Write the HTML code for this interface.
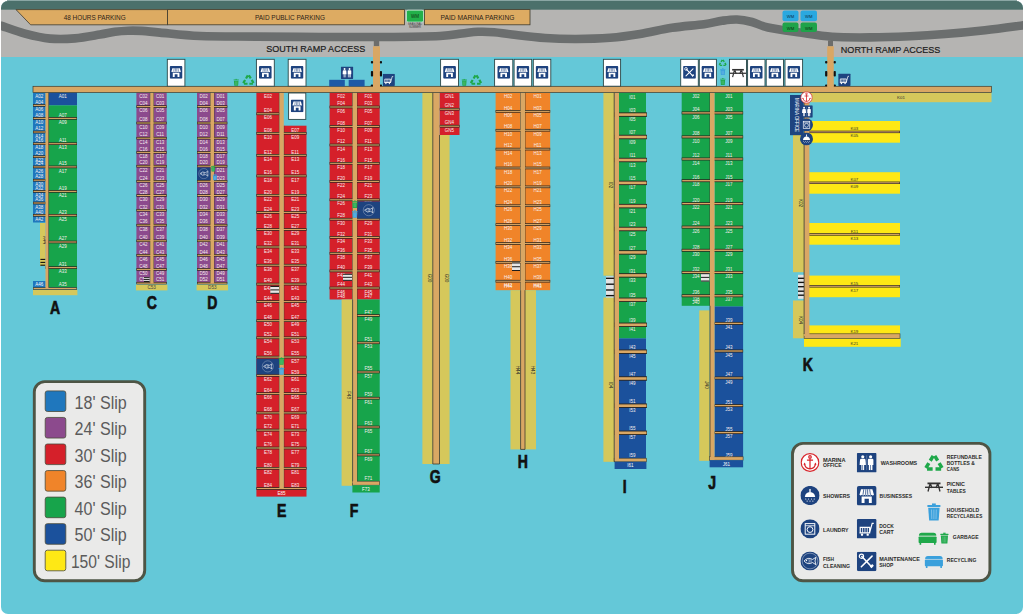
<!DOCTYPE html>
<html><head><meta charset="utf-8"><title>Marina Map</title>
<style>html,body{margin:0;padding:0;background:#fff;width:1024px;height:615px;overflow:hidden}svg{display:block}</style>
</head><body>
<svg width="1024" height="615" viewBox="0 0 1024 615">
<rect x="0" y="0" width="1024" height="615" fill="#ffffff"/><rect x="7" y="0" width="1010" height="3" fill="#8aa6a4"/>
<clipPath id="mapclip"><rect x="1" y="1" width="1022" height="613" rx="7"/></clipPath>
<g clip-path="url(#mapclip)">
<rect x="0" y="0" width="1024" height="615" fill="#64c8d8"/>
<rect x="0" y="0" width="1024" height="57" fill="#b5b4b2"/>
<rect x="0" y="0" width="1024" height="9.7" fill="#4b706b"/>
<path d="M0,25.3 C5.83,27.23 16.67,31.38 25,33.6 C33.33,35.82 41.67,37.8 50,38.6 C58.33,39.4 66.67,39.07 75,38.4 C83.33,37.73 93.33,35.7 100,34.6 C106.67,33.5 110.33,32.45 115,31.8 C119.67,31.15 123.5,30.85 128,30.7 C132.5,30.55 136.67,30.58 142,30.9 C147.33,31.22 150.33,31.75 160,32.6 C169.67,33.45 184,35.33 200,36 C216,36.67 236,36.43 256,36.6 C276,36.77 298.67,36.93 320,37 C341.33,37.07 364,37.17 384,37 C404,36.83 427,36.58 440,36 C453,35.42 455.67,34.2 462,33.5 C468.33,32.8 472.67,32.02 478,31.8 C483.33,31.58 488.33,31.75 494,32.2 C499.67,32.65 503.5,33.53 512,34.5 C520.5,35.47 534.33,37.25 545,38 C555.67,38.75 565.17,39.03 576,39 C586.83,38.97 599.33,38.63 610,37.8 C620.67,36.97 629.67,35.67 640,34 C650.33,32.33 661.33,29.43 672,27.8 C682.67,26.17 695.67,25.37 704,24.2 C712.33,23.03 716.5,21.58 722,20.8 C727.5,20.02 732,19.3 737,19.5 C742,19.7 746.83,20.67 752,22 C757.17,23.33 760,25.73 768,27.5 C776,29.27 789.33,31.05 800,32.6 C810.67,34.15 820.33,36 832,36.8 C843.67,37.6 857,37.5 870,37.4 C883,37.3 897.5,36.77 910,36.2 C922.5,35.63 932.5,35 945,34 C957.5,33 971.83,31.67 985,30.2 C998.17,28.73 1014.83,26.4 1024,25.2" fill="none" stroke="#6b6e6e" stroke-width="8.6"/>
</g>
<polygon points="16,9.6 167.6,9.6 167.6,24.8 30.6,24.8" fill="#ddab62" stroke="#3f3a2c" stroke-width="0.8"/>
<rect x="167.6" y="9.6" width="236.9" height="15.2" fill="#ddab62" stroke="#3f3a2c" stroke-width="0.8"/>
<rect x="424.4" y="9.6" width="105.6" height="15.2" fill="#ddab62" stroke="#3f3a2c" stroke-width="0.8"/>
<text x="94.7" y="20" font-size="7.2" fill="#2e2418" text-anchor="middle" font-weight="normal" font-family='"Liberation Sans", sans-serif' textLength="62" lengthAdjust="spacingAndGlyphs">48 HOURS PARKING</text>
<text x="290" y="20" font-size="7.2" fill="#2e2418" text-anchor="middle" font-weight="normal" font-family='"Liberation Sans", sans-serif' textLength="70" lengthAdjust="spacingAndGlyphs">PAID PUBLIC PARKING</text>
<text x="477.5" y="20" font-size="7.2" fill="#2e2418" text-anchor="middle" font-weight="normal" font-family='"Liberation Sans", sans-serif' textLength="74" lengthAdjust="spacingAndGlyphs">PAID MARINA PARKING</text>
<rect x="406.5" y="10.2" width="17" height="11.8" fill="#22b04a" stroke="#dfe" stroke-width="0.6" rx="1.5"/>
<text x="415" y="18.2" font-size="4.5" fill="#103010" text-anchor="middle" font-weight="normal" font-family='"Liberation Sans", sans-serif'>WM</text>
<text x="415" y="25" font-size="2.9" fill="#333" text-anchor="middle" font-weight="normal" font-family='"Liberation Sans", sans-serif' textLength="14" lengthAdjust="spacingAndGlyphs">SEASONAL</text>
<text x="415" y="28.2" font-size="2.9" fill="#333" text-anchor="middle" font-weight="normal" font-family='"Liberation Sans", sans-serif' textLength="12" lengthAdjust="spacingAndGlyphs">SUMMER</text>
<rect x="782.5" y="10.5" width="16" height="10.8" fill="#2aa8e0" rx="2"/>
<text x="790.5" y="18" font-size="4.2" fill="#0c2a40" text-anchor="middle" font-weight="normal" font-family='"Liberation Sans", sans-serif'>WM</text>
<rect x="782.5" y="22.4" width="16" height="9.6" fill="#1fa34a" rx="2"/>
<text x="790.5" y="29.6" font-size="4.2" fill="#0c2a10" text-anchor="middle" font-weight="normal" font-family='"Liberation Sans", sans-serif'>WM</text>
<rect x="800.5" y="10.5" width="16.5" height="10.8" fill="#2aa8e0" rx="2"/>
<text x="808.75" y="18" font-size="4.2" fill="#0c2a40" text-anchor="middle" font-weight="normal" font-family='"Liberation Sans", sans-serif'>WM</text>
<rect x="800.5" y="22.4" width="16.5" height="9.6" fill="#1fa34a" rx="2"/>
<text x="808.75" y="29.6" font-size="4.2" fill="#0c2a10" text-anchor="middle" font-weight="normal" font-family='"Liberation Sans", sans-serif'>WM</text>
<text x="315.7" y="52.3" font-size="9.4" fill="#1c1c1c" text-anchor="middle" font-weight="normal" font-family='"Liberation Sans", sans-serif' stroke="#1c1c1c" stroke-width="0.2" textLength="99" lengthAdjust="spacingAndGlyphs">SOUTH RAMP ACCESS</text>
<text x="890.6" y="53.3" font-size="9.4" fill="#1c1c1c" text-anchor="middle" font-weight="normal" font-family='"Liberation Sans", sans-serif' stroke="#1c1c1c" stroke-width="0.2" textLength="99.5" lengthAdjust="spacingAndGlyphs">NORTH RAMP ACCESS</text>
<rect x="373.8" y="40.5" width="5.4" height="5.8" fill="#6d6d6b"/>
<rect x="373" y="46.3" width="7" height="40.7" fill="#d9a764"/>
<rect x="370.9" y="60.9" width="2.2" height="2.6" fill="#111" rx="0.8"/>
<rect x="379.9" y="60.9" width="2.1" height="2.6" fill="#111" rx="0.8"/>
<rect x="370.9" y="71" width="2.2" height="5.5" fill="#111" rx="0.8"/>
<rect x="379.9" y="71" width="2.1" height="5.5" fill="#111" rx="0.8"/>
<rect x="370.9" y="84.4" width="2.2" height="2.8" fill="#111" rx="0.8"/>
<rect x="379.9" y="84.4" width="2.1" height="2.8" fill="#111" rx="0.8"/>
<rect x="828" y="40.5" width="5" height="5.8" fill="#6d6d6b"/>
<rect x="827.2" y="46.3" width="6.6" height="40.7" fill="#d9a764"/>
<rect x="825.1" y="60.9" width="2.2" height="2.6" fill="#111" rx="0.8"/>
<rect x="833.7" y="60.9" width="2.1" height="2.6" fill="#111" rx="0.8"/>
<rect x="825.1" y="71" width="2.2" height="5.5" fill="#111" rx="0.8"/>
<rect x="833.7" y="71" width="2.1" height="5.5" fill="#111" rx="0.8"/>
<rect x="825.1" y="84.4" width="2.2" height="2.8" fill="#111" rx="0.8"/>
<rect x="833.7" y="84.4" width="2.1" height="2.8" fill="#111" rx="0.8"/>
<rect x="33" y="92.5" width="12.5" height="12.9" fill="#1f77bd"/>
<rect x="33" y="105.4" width="12.5" height="13" fill="#1f77bd"/>
<rect x="33" y="118.4" width="12.5" height="13.6" fill="#1f77bd"/>
<rect x="33" y="132" width="12.5" height="11.7" fill="#1f77bd"/>
<rect x="33" y="143.7" width="12.5" height="13" fill="#1f77bd"/>
<rect x="33" y="156.7" width="12.5" height="10.2" fill="#1f77bd"/>
<rect x="33" y="166.9" width="12.5" height="13.3" fill="#1f77bd"/>
<rect x="33" y="180.2" width="12.5" height="11.2" fill="#1f77bd"/>
<rect x="33" y="191.4" width="12.5" height="11.6" fill="#1f77bd"/>
<rect x="33" y="203" width="12.5" height="12.3" fill="#1f77bd"/>
<rect x="33" y="215.3" width="12.5" height="7.2" fill="#1f77bd"/>
<text x="39.25" y="98.1" font-size="4.5" fill="#f6eeee" text-anchor="middle" font-weight="normal" font-family='"Liberation Sans", sans-serif'>A02</text>
<text x="39.25" y="103.6" font-size="4.5" fill="#f6eeee" text-anchor="middle" font-weight="normal" font-family='"Liberation Sans", sans-serif'>A04</text>
<text x="39.25" y="111" font-size="4.5" fill="#f6eeee" text-anchor="middle" font-weight="normal" font-family='"Liberation Sans", sans-serif'>A06</text>
<text x="39.25" y="116.6" font-size="4.5" fill="#f6eeee" text-anchor="middle" font-weight="normal" font-family='"Liberation Sans", sans-serif'>A08</text>
<text x="39.25" y="124" font-size="4.5" fill="#f6eeee" text-anchor="middle" font-weight="normal" font-family='"Liberation Sans", sans-serif'>A10</text>
<text x="39.25" y="130.2" font-size="4.5" fill="#f6eeee" text-anchor="middle" font-weight="normal" font-family='"Liberation Sans", sans-serif'>A12</text>
<text x="39.25" y="137.6" font-size="4.5" fill="#f6eeee" text-anchor="middle" font-weight="normal" font-family='"Liberation Sans", sans-serif'>A14</text>
<text x="39.25" y="141.9" font-size="4.5" fill="#f6eeee" text-anchor="middle" font-weight="normal" font-family='"Liberation Sans", sans-serif'>A16</text>
<text x="39.25" y="149.3" font-size="4.5" fill="#f6eeee" text-anchor="middle" font-weight="normal" font-family='"Liberation Sans", sans-serif'>A18</text>
<text x="39.25" y="154.9" font-size="4.5" fill="#f6eeee" text-anchor="middle" font-weight="normal" font-family='"Liberation Sans", sans-serif'>A20</text>
<text x="39.25" y="162.3" font-size="4.5" fill="#f6eeee" text-anchor="middle" font-weight="normal" font-family='"Liberation Sans", sans-serif'>A22</text>
<text x="39.25" y="165.1" font-size="4.5" fill="#f6eeee" text-anchor="middle" font-weight="normal" font-family='"Liberation Sans", sans-serif'>A24</text>
<text x="39.25" y="172.5" font-size="4.5" fill="#f6eeee" text-anchor="middle" font-weight="normal" font-family='"Liberation Sans", sans-serif'>A26</text>
<text x="39.25" y="178.4" font-size="4.5" fill="#f6eeee" text-anchor="middle" font-weight="normal" font-family='"Liberation Sans", sans-serif'>A28</text>
<text x="39.25" y="185.8" font-size="4.5" fill="#f6eeee" text-anchor="middle" font-weight="normal" font-family='"Liberation Sans", sans-serif'>A30</text>
<text x="39.25" y="189.6" font-size="4.5" fill="#f6eeee" text-anchor="middle" font-weight="normal" font-family='"Liberation Sans", sans-serif'>A32</text>
<text x="39.25" y="197" font-size="4.5" fill="#f6eeee" text-anchor="middle" font-weight="normal" font-family='"Liberation Sans", sans-serif'>A34</text>
<text x="39.25" y="201.2" font-size="4.5" fill="#f6eeee" text-anchor="middle" font-weight="normal" font-family='"Liberation Sans", sans-serif'>A36</text>
<text x="39.25" y="208.6" font-size="4.5" fill="#f6eeee" text-anchor="middle" font-weight="normal" font-family='"Liberation Sans", sans-serif'>A38</text>
<text x="39.25" y="213.5" font-size="4.5" fill="#f6eeee" text-anchor="middle" font-weight="normal" font-family='"Liberation Sans", sans-serif'>A40</text>
<text x="39.25" y="220.9" font-size="4.5" fill="#f6eeee" text-anchor="middle" font-weight="normal" font-family='"Liberation Sans", sans-serif'>A42</text>
<rect x="48.6" y="92.5" width="28.4" height="12.9" fill="#1b519c"/>
<rect x="48.6" y="105.4" width="28.4" height="13" fill="#17a44b"/>
<rect x="48.6" y="118.4" width="28.4" height="25.3" fill="#17a44b"/>
<rect x="48.6" y="143.7" width="28.4" height="23.2" fill="#17a44b"/>
<rect x="48.6" y="166.9" width="28.4" height="24.5" fill="#17a44b"/>
<rect x="48.6" y="191.4" width="28.4" height="23.9" fill="#17a44b"/>
<rect x="48.6" y="215.3" width="28.4" height="26.7" fill="#17a44b"/>
<rect x="48.6" y="242" width="28.4" height="25.6" fill="#17a44b"/>
<rect x="48.6" y="267.6" width="28.4" height="19.9" fill="#17a44b"/>
<text x="62.8" y="98.1" font-size="4.5" fill="#f6eeee" text-anchor="middle" font-weight="normal" font-family='"Liberation Sans", sans-serif'>A01</text>
<text x="62.8" y="116.6" font-size="4.5" fill="#f6eeee" text-anchor="middle" font-weight="normal" font-family='"Liberation Sans", sans-serif'>A07</text>
<text x="62.8" y="124" font-size="4.5" fill="#f6eeee" text-anchor="middle" font-weight="normal" font-family='"Liberation Sans", sans-serif'>A09</text>
<text x="62.8" y="141.9" font-size="4.5" fill="#f6eeee" text-anchor="middle" font-weight="normal" font-family='"Liberation Sans", sans-serif'>A11</text>
<text x="62.8" y="149.3" font-size="4.5" fill="#f6eeee" text-anchor="middle" font-weight="normal" font-family='"Liberation Sans", sans-serif'>A13</text>
<text x="62.8" y="165.1" font-size="4.5" fill="#f6eeee" text-anchor="middle" font-weight="normal" font-family='"Liberation Sans", sans-serif'>A15</text>
<text x="62.8" y="172.5" font-size="4.5" fill="#f6eeee" text-anchor="middle" font-weight="normal" font-family='"Liberation Sans", sans-serif'>A17</text>
<text x="62.8" y="189.6" font-size="4.5" fill="#f6eeee" text-anchor="middle" font-weight="normal" font-family='"Liberation Sans", sans-serif'>A19</text>
<text x="62.8" y="197" font-size="4.5" fill="#f6eeee" text-anchor="middle" font-weight="normal" font-family='"Liberation Sans", sans-serif'>A21</text>
<text x="62.8" y="213.5" font-size="4.5" fill="#f6eeee" text-anchor="middle" font-weight="normal" font-family='"Liberation Sans", sans-serif'>A23</text>
<text x="62.8" y="220.9" font-size="4.5" fill="#f6eeee" text-anchor="middle" font-weight="normal" font-family='"Liberation Sans", sans-serif'>A25</text>
<text x="62.8" y="240.2" font-size="4.5" fill="#f6eeee" text-anchor="middle" font-weight="normal" font-family='"Liberation Sans", sans-serif'>A27</text>
<text x="62.8" y="247.6" font-size="4.5" fill="#f6eeee" text-anchor="middle" font-weight="normal" font-family='"Liberation Sans", sans-serif'>A29</text>
<text x="62.8" y="265.8" font-size="4.5" fill="#f6eeee" text-anchor="middle" font-weight="normal" font-family='"Liberation Sans", sans-serif'>A31</text>
<text x="62.8" y="273.2" font-size="4.5" fill="#f6eeee" text-anchor="middle" font-weight="normal" font-family='"Liberation Sans", sans-serif'>A33</text>
<text x="62.8" y="285.7" font-size="4.5" fill="#f6eeee" text-anchor="middle" font-weight="normal" font-family='"Liberation Sans", sans-serif'>A35</text>
<rect x="40" y="223" width="5.4" height="42.8" fill="#d5c85b"/>
<text x="42.7" y="240" font-size="4.6" fill="#2a2a2a" text-anchor="middle" font-family='"Liberation Sans", sans-serif' transform="rotate(90 42.7 240)">A44</text>
<rect x="40.4" y="258.85" width="5" height="1.1" fill="#111"/>
<rect x="40.4" y="261.85" width="5" height="1.1" fill="#111"/>
<rect x="40.4" y="264.65" width="5" height="1.1" fill="#111"/>
<rect x="33" y="281" width="12.5" height="6.5" fill="#1f77bd"/>
<text x="39.2" y="286" font-size="4.5" fill="#fff" text-anchor="middle" font-weight="normal" font-family='"Liberation Sans", sans-serif'>A46</text>
<rect x="33" y="104.1" width="12.5" height="2.6" fill="#2c2620"/>
<rect x="33.5" y="104.85" width="11.5" height="1.1" fill="#d9a764"/>
<rect x="33" y="130.7" width="12.5" height="2.6" fill="#2c2620"/>
<rect x="33.5" y="131.45" width="11.5" height="1.1" fill="#d9a764"/>
<rect x="33" y="155.4" width="12.5" height="2.6" fill="#2c2620"/>
<rect x="33.5" y="156.15" width="11.5" height="1.1" fill="#d9a764"/>
<rect x="33" y="178.9" width="12.5" height="2.6" fill="#2c2620"/>
<rect x="33.5" y="179.65" width="11.5" height="1.1" fill="#d9a764"/>
<rect x="33" y="201.7" width="12.5" height="2.6" fill="#2c2620"/>
<rect x="33.5" y="202.45" width="11.5" height="1.1" fill="#d9a764"/>
<rect x="33" y="117.1" width="44" height="2.6" fill="#2c2620"/>
<rect x="33.5" y="117.85" width="43" height="1.1" fill="#d9a764"/>
<rect x="33" y="142.4" width="44" height="2.6" fill="#2c2620"/>
<rect x="33.5" y="143.15" width="43" height="1.1" fill="#d9a764"/>
<rect x="33" y="165.6" width="44" height="2.6" fill="#2c2620"/>
<rect x="33.5" y="166.35" width="43" height="1.1" fill="#d9a764"/>
<rect x="33" y="190.1" width="44" height="2.6" fill="#2c2620"/>
<rect x="33.5" y="190.85" width="43" height="1.1" fill="#d9a764"/>
<rect x="33" y="214" width="44" height="2.6" fill="#2c2620"/>
<rect x="33.5" y="214.75" width="43" height="1.1" fill="#d9a764"/>
<rect x="45.5" y="240.7" width="31.5" height="2.6" fill="#2c2620"/>
<rect x="46" y="241.45" width="30.5" height="1.1" fill="#d9a764"/>
<rect x="45.5" y="266.3" width="31.5" height="2.6" fill="#2c2620"/>
<rect x="46" y="267.05" width="30.5" height="1.1" fill="#d9a764"/>
<rect x="33" y="289.6" width="44.4" height="5.6" fill="#d5c85b"/>
<rect x="33" y="287.35" width="44" height="2.3" fill="#2c2620"/>
<rect x="33.5" y="287.95" width="43" height="1.1" fill="#d9a764"/>
<g transform="translate(55 0) scale(0.76 1)">
<text x="0" y="313.6" font-size="18.5" fill="#111" text-anchor="middle" font-weight="bold" font-family='"Liberation Sans", sans-serif' stroke="#111" stroke-width="0.7">A</text>
</g>
<rect x="136.4" y="92.5" width="13.9" height="14.1" fill="#8c4a8d"/>
<rect x="136.4" y="106.6" width="13.9" height="16.4" fill="#8c4a8d"/>
<rect x="136.4" y="123" width="13.9" height="15.2" fill="#8c4a8d"/>
<rect x="136.4" y="138.2" width="13.9" height="14.2" fill="#8c4a8d"/>
<rect x="136.4" y="152.4" width="13.9" height="13.8" fill="#8c4a8d"/>
<rect x="136.4" y="166.2" width="13.9" height="15.1" fill="#8c4a8d"/>
<rect x="136.4" y="181.3" width="13.9" height="14.2" fill="#8c4a8d"/>
<rect x="136.4" y="195.5" width="13.9" height="14.8" fill="#8c4a8d"/>
<rect x="136.4" y="210.3" width="13.9" height="14.9" fill="#8c4a8d"/>
<rect x="136.4" y="225.2" width="13.9" height="15.6" fill="#8c4a8d"/>
<rect x="136.4" y="240.8" width="13.9" height="14.5" fill="#8c4a8d"/>
<rect x="136.4" y="255.3" width="13.9" height="14.1" fill="#8c4a8d"/>
<rect x="136.4" y="269.4" width="13.9" height="13.8" fill="#8c4a8d"/>
<text x="143.35" y="98.1" font-size="4.5" fill="#f6eeee" text-anchor="middle" font-weight="normal" font-family='"Liberation Sans", sans-serif'>C02</text>
<text x="143.35" y="104.8" font-size="4.5" fill="#f6eeee" text-anchor="middle" font-weight="normal" font-family='"Liberation Sans", sans-serif'>C04</text>
<text x="143.35" y="112.2" font-size="4.5" fill="#f6eeee" text-anchor="middle" font-weight="normal" font-family='"Liberation Sans", sans-serif'>C06</text>
<text x="143.35" y="121.2" font-size="4.5" fill="#f6eeee" text-anchor="middle" font-weight="normal" font-family='"Liberation Sans", sans-serif'>C08</text>
<text x="143.35" y="128.6" font-size="4.5" fill="#f6eeee" text-anchor="middle" font-weight="normal" font-family='"Liberation Sans", sans-serif'>C10</text>
<text x="143.35" y="136.4" font-size="4.5" fill="#f6eeee" text-anchor="middle" font-weight="normal" font-family='"Liberation Sans", sans-serif'>C12</text>
<text x="143.35" y="143.8" font-size="4.5" fill="#f6eeee" text-anchor="middle" font-weight="normal" font-family='"Liberation Sans", sans-serif'>C14</text>
<text x="143.35" y="150.6" font-size="4.5" fill="#f6eeee" text-anchor="middle" font-weight="normal" font-family='"Liberation Sans", sans-serif'>C16</text>
<text x="143.35" y="158" font-size="4.5" fill="#f6eeee" text-anchor="middle" font-weight="normal" font-family='"Liberation Sans", sans-serif'>C18</text>
<text x="143.35" y="164.4" font-size="4.5" fill="#f6eeee" text-anchor="middle" font-weight="normal" font-family='"Liberation Sans", sans-serif'>C20</text>
<text x="143.35" y="171.8" font-size="4.5" fill="#f6eeee" text-anchor="middle" font-weight="normal" font-family='"Liberation Sans", sans-serif'>C22</text>
<text x="143.35" y="179.5" font-size="4.5" fill="#f6eeee" text-anchor="middle" font-weight="normal" font-family='"Liberation Sans", sans-serif'>C24</text>
<text x="143.35" y="186.9" font-size="4.5" fill="#f6eeee" text-anchor="middle" font-weight="normal" font-family='"Liberation Sans", sans-serif'>C26</text>
<text x="143.35" y="193.7" font-size="4.5" fill="#f6eeee" text-anchor="middle" font-weight="normal" font-family='"Liberation Sans", sans-serif'>C28</text>
<text x="143.35" y="201.1" font-size="4.5" fill="#f6eeee" text-anchor="middle" font-weight="normal" font-family='"Liberation Sans", sans-serif'>C30</text>
<text x="143.35" y="208.5" font-size="4.5" fill="#f6eeee" text-anchor="middle" font-weight="normal" font-family='"Liberation Sans", sans-serif'>C32</text>
<text x="143.35" y="215.9" font-size="4.5" fill="#f6eeee" text-anchor="middle" font-weight="normal" font-family='"Liberation Sans", sans-serif'>C34</text>
<text x="143.35" y="223.4" font-size="4.5" fill="#f6eeee" text-anchor="middle" font-weight="normal" font-family='"Liberation Sans", sans-serif'>C36</text>
<text x="143.35" y="230.8" font-size="4.5" fill="#f6eeee" text-anchor="middle" font-weight="normal" font-family='"Liberation Sans", sans-serif'>C38</text>
<text x="143.35" y="239" font-size="4.5" fill="#f6eeee" text-anchor="middle" font-weight="normal" font-family='"Liberation Sans", sans-serif'>C40</text>
<text x="143.35" y="246.4" font-size="4.5" fill="#f6eeee" text-anchor="middle" font-weight="normal" font-family='"Liberation Sans", sans-serif'>C42</text>
<text x="143.35" y="253.5" font-size="4.5" fill="#f6eeee" text-anchor="middle" font-weight="normal" font-family='"Liberation Sans", sans-serif'>C44</text>
<text x="143.35" y="260.9" font-size="4.5" fill="#f6eeee" text-anchor="middle" font-weight="normal" font-family='"Liberation Sans", sans-serif'>C46</text>
<text x="143.35" y="267.6" font-size="4.5" fill="#f6eeee" text-anchor="middle" font-weight="normal" font-family='"Liberation Sans", sans-serif'>C48</text>
<text x="143.35" y="275" font-size="4.5" fill="#f6eeee" text-anchor="middle" font-weight="normal" font-family='"Liberation Sans", sans-serif'>C50</text>
<text x="143.35" y="281.4" font-size="4.5" fill="#f6eeee" text-anchor="middle" font-weight="normal" font-family='"Liberation Sans", sans-serif'>C52</text>
<rect x="153.5" y="92.5" width="13.2" height="14.1" fill="#8c4a8d"/>
<rect x="153.5" y="106.6" width="13.2" height="16.4" fill="#8c4a8d"/>
<rect x="153.5" y="123" width="13.2" height="15.2" fill="#8c4a8d"/>
<rect x="153.5" y="138.2" width="13.2" height="14.2" fill="#8c4a8d"/>
<rect x="153.5" y="152.4" width="13.2" height="13.8" fill="#8c4a8d"/>
<rect x="153.5" y="166.2" width="13.2" height="15.1" fill="#8c4a8d"/>
<rect x="153.5" y="181.3" width="13.2" height="14.2" fill="#8c4a8d"/>
<rect x="153.5" y="195.5" width="13.2" height="14.8" fill="#8c4a8d"/>
<rect x="153.5" y="210.3" width="13.2" height="14.9" fill="#8c4a8d"/>
<rect x="153.5" y="225.2" width="13.2" height="15.6" fill="#8c4a8d"/>
<rect x="153.5" y="240.8" width="13.2" height="14.5" fill="#8c4a8d"/>
<rect x="153.5" y="255.3" width="13.2" height="14.1" fill="#8c4a8d"/>
<rect x="153.5" y="269.4" width="13.2" height="13.8" fill="#8c4a8d"/>
<text x="160.1" y="98.1" font-size="4.5" fill="#f6eeee" text-anchor="middle" font-weight="normal" font-family='"Liberation Sans", sans-serif'>C01</text>
<text x="160.1" y="104.8" font-size="4.5" fill="#f6eeee" text-anchor="middle" font-weight="normal" font-family='"Liberation Sans", sans-serif'>C03</text>
<text x="160.1" y="112.2" font-size="4.5" fill="#f6eeee" text-anchor="middle" font-weight="normal" font-family='"Liberation Sans", sans-serif'>C05</text>
<text x="160.1" y="121.2" font-size="4.5" fill="#f6eeee" text-anchor="middle" font-weight="normal" font-family='"Liberation Sans", sans-serif'>C07</text>
<text x="160.1" y="128.6" font-size="4.5" fill="#f6eeee" text-anchor="middle" font-weight="normal" font-family='"Liberation Sans", sans-serif'>C09</text>
<text x="160.1" y="136.4" font-size="4.5" fill="#f6eeee" text-anchor="middle" font-weight="normal" font-family='"Liberation Sans", sans-serif'>C11</text>
<text x="160.1" y="143.8" font-size="4.5" fill="#f6eeee" text-anchor="middle" font-weight="normal" font-family='"Liberation Sans", sans-serif'>C13</text>
<text x="160.1" y="150.6" font-size="4.5" fill="#f6eeee" text-anchor="middle" font-weight="normal" font-family='"Liberation Sans", sans-serif'>C15</text>
<text x="160.1" y="158" font-size="4.5" fill="#f6eeee" text-anchor="middle" font-weight="normal" font-family='"Liberation Sans", sans-serif'>C17</text>
<text x="160.1" y="164.4" font-size="4.5" fill="#f6eeee" text-anchor="middle" font-weight="normal" font-family='"Liberation Sans", sans-serif'>C19</text>
<text x="160.1" y="171.8" font-size="4.5" fill="#f6eeee" text-anchor="middle" font-weight="normal" font-family='"Liberation Sans", sans-serif'>C21</text>
<text x="160.1" y="179.5" font-size="4.5" fill="#f6eeee" text-anchor="middle" font-weight="normal" font-family='"Liberation Sans", sans-serif'>C23</text>
<text x="160.1" y="186.9" font-size="4.5" fill="#f6eeee" text-anchor="middle" font-weight="normal" font-family='"Liberation Sans", sans-serif'>C25</text>
<text x="160.1" y="193.7" font-size="4.5" fill="#f6eeee" text-anchor="middle" font-weight="normal" font-family='"Liberation Sans", sans-serif'>C27</text>
<text x="160.1" y="201.1" font-size="4.5" fill="#f6eeee" text-anchor="middle" font-weight="normal" font-family='"Liberation Sans", sans-serif'>C29</text>
<text x="160.1" y="208.5" font-size="4.5" fill="#f6eeee" text-anchor="middle" font-weight="normal" font-family='"Liberation Sans", sans-serif'>C31</text>
<text x="160.1" y="215.9" font-size="4.5" fill="#f6eeee" text-anchor="middle" font-weight="normal" font-family='"Liberation Sans", sans-serif'>C33</text>
<text x="160.1" y="223.4" font-size="4.5" fill="#f6eeee" text-anchor="middle" font-weight="normal" font-family='"Liberation Sans", sans-serif'>C35</text>
<text x="160.1" y="230.8" font-size="4.5" fill="#f6eeee" text-anchor="middle" font-weight="normal" font-family='"Liberation Sans", sans-serif'>C37</text>
<text x="160.1" y="239" font-size="4.5" fill="#f6eeee" text-anchor="middle" font-weight="normal" font-family='"Liberation Sans", sans-serif'>C39</text>
<text x="160.1" y="246.4" font-size="4.5" fill="#f6eeee" text-anchor="middle" font-weight="normal" font-family='"Liberation Sans", sans-serif'>C41</text>
<text x="160.1" y="253.5" font-size="4.5" fill="#f6eeee" text-anchor="middle" font-weight="normal" font-family='"Liberation Sans", sans-serif'>C43</text>
<text x="160.1" y="260.9" font-size="4.5" fill="#f6eeee" text-anchor="middle" font-weight="normal" font-family='"Liberation Sans", sans-serif'>C45</text>
<text x="160.1" y="267.6" font-size="4.5" fill="#f6eeee" text-anchor="middle" font-weight="normal" font-family='"Liberation Sans", sans-serif'>C47</text>
<text x="160.1" y="275" font-size="4.5" fill="#f6eeee" text-anchor="middle" font-weight="normal" font-family='"Liberation Sans", sans-serif'>C49</text>
<text x="160.1" y="281.4" font-size="4.5" fill="#f6eeee" text-anchor="middle" font-weight="normal" font-family='"Liberation Sans", sans-serif'>C51</text>
<line x1="150.3" y1="92.5" x2="150.3" y2="283.2" stroke="#3f3a2c" stroke-width="0.8"/>
<line x1="153.5" y1="92.5" x2="153.5" y2="283.2" stroke="#3f3a2c" stroke-width="0.8"/>
<rect x="136.4" y="105.35" width="30.3" height="2.5" fill="#2c2620"/>
<rect x="136.9" y="106.05" width="29.3" height="1.1" fill="#d9a764"/>
<rect x="136.4" y="121.75" width="30.3" height="2.5" fill="#2c2620"/>
<rect x="136.9" y="122.45" width="29.3" height="1.1" fill="#d9a764"/>
<rect x="136.4" y="136.95" width="30.3" height="2.5" fill="#2c2620"/>
<rect x="136.9" y="137.65" width="29.3" height="1.1" fill="#d9a764"/>
<rect x="136.4" y="151.15" width="30.3" height="2.5" fill="#2c2620"/>
<rect x="136.9" y="151.85" width="29.3" height="1.1" fill="#d9a764"/>
<rect x="136.4" y="164.95" width="30.3" height="2.5" fill="#2c2620"/>
<rect x="136.9" y="165.65" width="29.3" height="1.1" fill="#d9a764"/>
<rect x="136.4" y="180.05" width="30.3" height="2.5" fill="#2c2620"/>
<rect x="136.9" y="180.75" width="29.3" height="1.1" fill="#d9a764"/>
<rect x="136.4" y="194.25" width="30.3" height="2.5" fill="#2c2620"/>
<rect x="136.9" y="194.95" width="29.3" height="1.1" fill="#d9a764"/>
<rect x="136.4" y="209.05" width="30.3" height="2.5" fill="#2c2620"/>
<rect x="136.9" y="209.75" width="29.3" height="1.1" fill="#d9a764"/>
<rect x="136.4" y="223.95" width="30.3" height="2.5" fill="#2c2620"/>
<rect x="136.9" y="224.65" width="29.3" height="1.1" fill="#d9a764"/>
<rect x="136.4" y="239.55" width="30.3" height="2.5" fill="#2c2620"/>
<rect x="136.9" y="240.25" width="29.3" height="1.1" fill="#d9a764"/>
<rect x="136.4" y="254.05" width="30.3" height="2.5" fill="#2c2620"/>
<rect x="136.9" y="254.75" width="29.3" height="1.1" fill="#d9a764"/>
<rect x="136.4" y="268.15" width="30.3" height="2.5" fill="#2c2620"/>
<rect x="136.9" y="268.85" width="29.3" height="1.1" fill="#d9a764"/>
<rect x="136.4" y="281.95" width="30.3" height="2.5" fill="#2c2620"/>
<rect x="136.9" y="282.65" width="29.3" height="1.1" fill="#d9a764"/>
<rect x="136" y="284.7" width="31.4" height="5.7" fill="#d5c85b"/>
<text x="151.7" y="289.4" font-size="4.6" fill="#444" text-anchor="middle" font-weight="normal" font-family='"Liberation Sans", sans-serif'>C53</text>
<rect x="144" y="277.2" width="5.6" height="4.8" fill="#e6e6e6"/>
<rect x="144" y="277.2" width="5.6" height="0.95" fill="#111"/>
<rect x="144" y="279.12" width="5.6" height="0.95" fill="#111"/>
<rect x="144" y="281.05" width="5.6" height="0.95" fill="#111"/>
<rect x="197" y="92.5" width="13.5" height="14.1" fill="#8c4a8d"/>
<rect x="197" y="106.6" width="13.5" height="16.4" fill="#8c4a8d"/>
<rect x="197" y="123" width="13.5" height="15.2" fill="#8c4a8d"/>
<rect x="197" y="138.2" width="13.5" height="14.2" fill="#8c4a8d"/>
<rect x="197" y="152.4" width="13.5" height="13.8" fill="#8c4a8d"/>
<rect x="197" y="166.2" width="13.5" height="15.1" fill="#8c4a8d"/>
<rect x="197" y="181.3" width="13.5" height="14.2" fill="#8c4a8d"/>
<rect x="197" y="195.5" width="13.5" height="14.8" fill="#8c4a8d"/>
<rect x="197" y="210.3" width="13.5" height="14.9" fill="#8c4a8d"/>
<rect x="197" y="225.2" width="13.5" height="15.6" fill="#8c4a8d"/>
<rect x="197" y="240.8" width="13.5" height="14.5" fill="#8c4a8d"/>
<rect x="197" y="255.3" width="13.5" height="14.1" fill="#8c4a8d"/>
<rect x="197" y="269.4" width="13.5" height="13.8" fill="#8c4a8d"/>
<text x="203.75" y="98.1" font-size="4.5" fill="#f6eeee" text-anchor="middle" font-weight="normal" font-family='"Liberation Sans", sans-serif'>D02</text>
<text x="203.75" y="104.8" font-size="4.5" fill="#f6eeee" text-anchor="middle" font-weight="normal" font-family='"Liberation Sans", sans-serif'>D04</text>
<text x="203.75" y="112.2" font-size="4.5" fill="#f6eeee" text-anchor="middle" font-weight="normal" font-family='"Liberation Sans", sans-serif'>D06</text>
<text x="203.75" y="121.2" font-size="4.5" fill="#f6eeee" text-anchor="middle" font-weight="normal" font-family='"Liberation Sans", sans-serif'>D08</text>
<text x="203.75" y="128.6" font-size="4.5" fill="#f6eeee" text-anchor="middle" font-weight="normal" font-family='"Liberation Sans", sans-serif'>D10</text>
<text x="203.75" y="136.4" font-size="4.5" fill="#f6eeee" text-anchor="middle" font-weight="normal" font-family='"Liberation Sans", sans-serif'>D12</text>
<text x="203.75" y="143.8" font-size="4.5" fill="#f6eeee" text-anchor="middle" font-weight="normal" font-family='"Liberation Sans", sans-serif'>D14</text>
<text x="203.75" y="150.6" font-size="4.5" fill="#f6eeee" text-anchor="middle" font-weight="normal" font-family='"Liberation Sans", sans-serif'>D16</text>
<text x="203.75" y="158" font-size="4.5" fill="#f6eeee" text-anchor="middle" font-weight="normal" font-family='"Liberation Sans", sans-serif'>D18</text>
<text x="203.75" y="164.4" font-size="4.5" fill="#f6eeee" text-anchor="middle" font-weight="normal" font-family='"Liberation Sans", sans-serif'>D20</text>
<text x="203.75" y="171.8" font-size="4.5" fill="#f6eeee" text-anchor="middle" font-weight="normal" font-family='"Liberation Sans", sans-serif'>D22</text>
<text x="203.75" y="179.5" font-size="4.5" fill="#f6eeee" text-anchor="middle" font-weight="normal" font-family='"Liberation Sans", sans-serif'>D24</text>
<text x="203.75" y="186.9" font-size="4.5" fill="#f6eeee" text-anchor="middle" font-weight="normal" font-family='"Liberation Sans", sans-serif'>D26</text>
<text x="203.75" y="193.7" font-size="4.5" fill="#f6eeee" text-anchor="middle" font-weight="normal" font-family='"Liberation Sans", sans-serif'>D28</text>
<text x="203.75" y="201.1" font-size="4.5" fill="#f6eeee" text-anchor="middle" font-weight="normal" font-family='"Liberation Sans", sans-serif'>D30</text>
<text x="203.75" y="208.5" font-size="4.5" fill="#f6eeee" text-anchor="middle" font-weight="normal" font-family='"Liberation Sans", sans-serif'>D32</text>
<text x="203.75" y="215.9" font-size="4.5" fill="#f6eeee" text-anchor="middle" font-weight="normal" font-family='"Liberation Sans", sans-serif'>D34</text>
<text x="203.75" y="223.4" font-size="4.5" fill="#f6eeee" text-anchor="middle" font-weight="normal" font-family='"Liberation Sans", sans-serif'>D36</text>
<text x="203.75" y="230.8" font-size="4.5" fill="#f6eeee" text-anchor="middle" font-weight="normal" font-family='"Liberation Sans", sans-serif'>D38</text>
<text x="203.75" y="239" font-size="4.5" fill="#f6eeee" text-anchor="middle" font-weight="normal" font-family='"Liberation Sans", sans-serif'>D40</text>
<text x="203.75" y="246.4" font-size="4.5" fill="#f6eeee" text-anchor="middle" font-weight="normal" font-family='"Liberation Sans", sans-serif'>D42</text>
<text x="203.75" y="253.5" font-size="4.5" fill="#f6eeee" text-anchor="middle" font-weight="normal" font-family='"Liberation Sans", sans-serif'>D44</text>
<text x="203.75" y="260.9" font-size="4.5" fill="#f6eeee" text-anchor="middle" font-weight="normal" font-family='"Liberation Sans", sans-serif'>D46</text>
<text x="203.75" y="267.6" font-size="4.5" fill="#f6eeee" text-anchor="middle" font-weight="normal" font-family='"Liberation Sans", sans-serif'>D48</text>
<text x="203.75" y="275" font-size="4.5" fill="#f6eeee" text-anchor="middle" font-weight="normal" font-family='"Liberation Sans", sans-serif'>D50</text>
<text x="203.75" y="281.4" font-size="4.5" fill="#f6eeee" text-anchor="middle" font-weight="normal" font-family='"Liberation Sans", sans-serif'>D52</text>
<rect x="214" y="92.5" width="13.3" height="14.1" fill="#8c4a8d"/>
<rect x="214" y="106.6" width="13.3" height="16.4" fill="#8c4a8d"/>
<rect x="214" y="123" width="13.3" height="15.2" fill="#8c4a8d"/>
<rect x="214" y="138.2" width="13.3" height="14.2" fill="#8c4a8d"/>
<rect x="214" y="152.4" width="13.3" height="13.8" fill="#8c4a8d"/>
<rect x="214" y="166.2" width="13.3" height="15.1" fill="#8c4a8d"/>
<rect x="214" y="181.3" width="13.3" height="14.2" fill="#8c4a8d"/>
<rect x="214" y="195.5" width="13.3" height="14.8" fill="#8c4a8d"/>
<rect x="214" y="210.3" width="13.3" height="14.9" fill="#8c4a8d"/>
<rect x="214" y="225.2" width="13.3" height="15.6" fill="#8c4a8d"/>
<rect x="214" y="240.8" width="13.3" height="14.5" fill="#8c4a8d"/>
<rect x="214" y="255.3" width="13.3" height="14.1" fill="#8c4a8d"/>
<rect x="214" y="269.4" width="13.3" height="13.8" fill="#8c4a8d"/>
<text x="220.65" y="98.1" font-size="4.5" fill="#f6eeee" text-anchor="middle" font-weight="normal" font-family='"Liberation Sans", sans-serif'>D01</text>
<text x="220.65" y="104.8" font-size="4.5" fill="#f6eeee" text-anchor="middle" font-weight="normal" font-family='"Liberation Sans", sans-serif'>D03</text>
<text x="220.65" y="112.2" font-size="4.5" fill="#f6eeee" text-anchor="middle" font-weight="normal" font-family='"Liberation Sans", sans-serif'>D05</text>
<text x="220.65" y="121.2" font-size="4.5" fill="#f6eeee" text-anchor="middle" font-weight="normal" font-family='"Liberation Sans", sans-serif'>D07</text>
<text x="220.65" y="128.6" font-size="4.5" fill="#f6eeee" text-anchor="middle" font-weight="normal" font-family='"Liberation Sans", sans-serif'>D09</text>
<text x="220.65" y="136.4" font-size="4.5" fill="#f6eeee" text-anchor="middle" font-weight="normal" font-family='"Liberation Sans", sans-serif'>D11</text>
<text x="220.65" y="143.8" font-size="4.5" fill="#f6eeee" text-anchor="middle" font-weight="normal" font-family='"Liberation Sans", sans-serif'>D13</text>
<text x="220.65" y="150.6" font-size="4.5" fill="#f6eeee" text-anchor="middle" font-weight="normal" font-family='"Liberation Sans", sans-serif'>D15</text>
<text x="220.65" y="158" font-size="4.5" fill="#f6eeee" text-anchor="middle" font-weight="normal" font-family='"Liberation Sans", sans-serif'>D17</text>
<text x="220.65" y="164.4" font-size="4.5" fill="#f6eeee" text-anchor="middle" font-weight="normal" font-family='"Liberation Sans", sans-serif'>D19</text>
<text x="220.65" y="171.8" font-size="4.5" fill="#f6eeee" text-anchor="middle" font-weight="normal" font-family='"Liberation Sans", sans-serif'>D21</text>
<text x="220.65" y="179.5" font-size="4.5" fill="#f6eeee" text-anchor="middle" font-weight="normal" font-family='"Liberation Sans", sans-serif'>D23</text>
<text x="220.65" y="186.9" font-size="4.5" fill="#f6eeee" text-anchor="middle" font-weight="normal" font-family='"Liberation Sans", sans-serif'>D25</text>
<text x="220.65" y="193.7" font-size="4.5" fill="#f6eeee" text-anchor="middle" font-weight="normal" font-family='"Liberation Sans", sans-serif'>D27</text>
<text x="220.65" y="201.1" font-size="4.5" fill="#f6eeee" text-anchor="middle" font-weight="normal" font-family='"Liberation Sans", sans-serif'>D29</text>
<text x="220.65" y="208.5" font-size="4.5" fill="#f6eeee" text-anchor="middle" font-weight="normal" font-family='"Liberation Sans", sans-serif'>D31</text>
<text x="220.65" y="215.9" font-size="4.5" fill="#f6eeee" text-anchor="middle" font-weight="normal" font-family='"Liberation Sans", sans-serif'>D33</text>
<text x="220.65" y="223.4" font-size="4.5" fill="#f6eeee" text-anchor="middle" font-weight="normal" font-family='"Liberation Sans", sans-serif'>D35</text>
<text x="220.65" y="230.8" font-size="4.5" fill="#f6eeee" text-anchor="middle" font-weight="normal" font-family='"Liberation Sans", sans-serif'>D37</text>
<text x="220.65" y="239" font-size="4.5" fill="#f6eeee" text-anchor="middle" font-weight="normal" font-family='"Liberation Sans", sans-serif'>D39</text>
<text x="220.65" y="246.4" font-size="4.5" fill="#f6eeee" text-anchor="middle" font-weight="normal" font-family='"Liberation Sans", sans-serif'>D41</text>
<text x="220.65" y="253.5" font-size="4.5" fill="#f6eeee" text-anchor="middle" font-weight="normal" font-family='"Liberation Sans", sans-serif'>D43</text>
<text x="220.65" y="260.9" font-size="4.5" fill="#f6eeee" text-anchor="middle" font-weight="normal" font-family='"Liberation Sans", sans-serif'>D45</text>
<text x="220.65" y="267.6" font-size="4.5" fill="#f6eeee" text-anchor="middle" font-weight="normal" font-family='"Liberation Sans", sans-serif'>D47</text>
<text x="220.65" y="275" font-size="4.5" fill="#f6eeee" text-anchor="middle" font-weight="normal" font-family='"Liberation Sans", sans-serif'>D49</text>
<text x="220.65" y="281.4" font-size="4.5" fill="#f6eeee" text-anchor="middle" font-weight="normal" font-family='"Liberation Sans", sans-serif'>D51</text>
<line x1="210.5" y1="92.5" x2="210.5" y2="283.2" stroke="#3f3a2c" stroke-width="0.8"/>
<line x1="214" y1="92.5" x2="214" y2="283.2" stroke="#3f3a2c" stroke-width="0.8"/>
<rect x="197" y="105.35" width="30.3" height="2.5" fill="#2c2620"/>
<rect x="197.5" y="106.05" width="29.3" height="1.1" fill="#d9a764"/>
<rect x="197" y="121.75" width="30.3" height="2.5" fill="#2c2620"/>
<rect x="197.5" y="122.45" width="29.3" height="1.1" fill="#d9a764"/>
<rect x="197" y="136.95" width="30.3" height="2.5" fill="#2c2620"/>
<rect x="197.5" y="137.65" width="29.3" height="1.1" fill="#d9a764"/>
<rect x="197" y="151.15" width="30.3" height="2.5" fill="#2c2620"/>
<rect x="197.5" y="151.85" width="29.3" height="1.1" fill="#d9a764"/>
<rect x="197" y="164.95" width="30.3" height="2.5" fill="#2c2620"/>
<rect x="197.5" y="165.65" width="29.3" height="1.1" fill="#d9a764"/>
<rect x="197" y="180.05" width="30.3" height="2.5" fill="#2c2620"/>
<rect x="197.5" y="180.75" width="29.3" height="1.1" fill="#d9a764"/>
<rect x="197" y="194.25" width="30.3" height="2.5" fill="#2c2620"/>
<rect x="197.5" y="194.95" width="29.3" height="1.1" fill="#d9a764"/>
<rect x="197" y="209.05" width="30.3" height="2.5" fill="#2c2620"/>
<rect x="197.5" y="209.75" width="29.3" height="1.1" fill="#d9a764"/>
<rect x="197" y="223.95" width="30.3" height="2.5" fill="#2c2620"/>
<rect x="197.5" y="224.65" width="29.3" height="1.1" fill="#d9a764"/>
<rect x="197" y="239.55" width="30.3" height="2.5" fill="#2c2620"/>
<rect x="197.5" y="240.25" width="29.3" height="1.1" fill="#d9a764"/>
<rect x="197" y="254.05" width="30.3" height="2.5" fill="#2c2620"/>
<rect x="197.5" y="254.75" width="29.3" height="1.1" fill="#d9a764"/>
<rect x="197" y="268.15" width="30.3" height="2.5" fill="#2c2620"/>
<rect x="197.5" y="268.85" width="29.3" height="1.1" fill="#d9a764"/>
<rect x="197" y="281.95" width="30.3" height="2.5" fill="#2c2620"/>
<rect x="197.5" y="282.65" width="29.3" height="1.1" fill="#d9a764"/>
<rect x="196.6" y="284.7" width="31.4" height="5.7" fill="#d5c85b"/>
<text x="212.3" y="289.4" font-size="4.6" fill="#444" text-anchor="middle" font-weight="normal" font-family='"Liberation Sans", sans-serif'>D53</text>
<g transform="translate(151.8 0) scale(0.76 1)">
<text x="0" y="309" font-size="18.5" fill="#111" text-anchor="middle" font-weight="bold" font-family='"Liberation Sans", sans-serif' stroke="#111" stroke-width="0.7">C</text>
</g>
<g transform="translate(212.3 0) scale(0.76 1)">
<text x="0" y="309" font-size="18.5" fill="#111" text-anchor="middle" font-weight="bold" font-family='"Liberation Sans", sans-serif' stroke="#111" stroke-width="0.7">D</text>
</g>
<rect x="256.4" y="92.5" width="23" height="21.3" fill="#d5202a"/>
<rect x="256.4" y="113.8" width="23" height="19.5" fill="#d5202a"/>
<rect x="256.4" y="133.3" width="23" height="22" fill="#d5202a"/>
<rect x="256.4" y="155.3" width="23" height="20.6" fill="#d5202a"/>
<rect x="256.4" y="175.9" width="23" height="19.4" fill="#d5202a"/>
<rect x="256.4" y="195.3" width="23" height="17.1" fill="#d5202a"/>
<rect x="256.4" y="212.4" width="23" height="17.1" fill="#d5202a"/>
<rect x="256.4" y="229.5" width="23" height="17.5" fill="#d5202a"/>
<rect x="256.4" y="247" width="23" height="18.2" fill="#d5202a"/>
<rect x="256.4" y="265.2" width="23" height="18.9" fill="#d5202a"/>
<rect x="256.4" y="284.1" width="23" height="17.5" fill="#d5202a"/>
<rect x="256.4" y="301.6" width="23" height="19.1" fill="#d5202a"/>
<rect x="256.4" y="320.7" width="23" height="17.1" fill="#d5202a"/>
<rect x="256.4" y="337.8" width="23" height="19.3" fill="#d5202a"/>
<rect x="256.4" y="357.1" width="23" height="18.3" fill="#d5202a"/>
<rect x="256.4" y="375.4" width="23" height="18.2" fill="#d5202a"/>
<rect x="256.4" y="393.6" width="23" height="19.3" fill="#d5202a"/>
<rect x="256.4" y="412.9" width="23" height="17.2" fill="#d5202a"/>
<rect x="256.4" y="430.1" width="23" height="17.9" fill="#d5202a"/>
<rect x="256.4" y="448" width="23" height="20.3" fill="#d5202a"/>
<rect x="256.4" y="468.3" width="23" height="20.2" fill="#d5202a"/>
<text x="267.9" y="98.1" font-size="4.5" fill="#f6eeee" text-anchor="middle" font-weight="normal" font-family='"Liberation Sans", sans-serif'>E02</text>
<text x="267.9" y="112" font-size="4.5" fill="#f6eeee" text-anchor="middle" font-weight="normal" font-family='"Liberation Sans", sans-serif'>E04</text>
<text x="267.9" y="119.4" font-size="4.5" fill="#f6eeee" text-anchor="middle" font-weight="normal" font-family='"Liberation Sans", sans-serif'>E06</text>
<text x="267.9" y="131.5" font-size="4.5" fill="#f6eeee" text-anchor="middle" font-weight="normal" font-family='"Liberation Sans", sans-serif'>E08</text>
<text x="267.9" y="138.9" font-size="4.5" fill="#f6eeee" text-anchor="middle" font-weight="normal" font-family='"Liberation Sans", sans-serif'>E10</text>
<text x="267.9" y="153.5" font-size="4.5" fill="#f6eeee" text-anchor="middle" font-weight="normal" font-family='"Liberation Sans", sans-serif'>E12</text>
<text x="267.9" y="160.9" font-size="4.5" fill="#f6eeee" text-anchor="middle" font-weight="normal" font-family='"Liberation Sans", sans-serif'>E14</text>
<text x="267.9" y="174.1" font-size="4.5" fill="#f6eeee" text-anchor="middle" font-weight="normal" font-family='"Liberation Sans", sans-serif'>E16</text>
<text x="267.9" y="181.5" font-size="4.5" fill="#f6eeee" text-anchor="middle" font-weight="normal" font-family='"Liberation Sans", sans-serif'>E18</text>
<text x="267.9" y="193.5" font-size="4.5" fill="#f6eeee" text-anchor="middle" font-weight="normal" font-family='"Liberation Sans", sans-serif'>E20</text>
<text x="267.9" y="200.9" font-size="4.5" fill="#f6eeee" text-anchor="middle" font-weight="normal" font-family='"Liberation Sans", sans-serif'>E22</text>
<text x="267.9" y="210.6" font-size="4.5" fill="#f6eeee" text-anchor="middle" font-weight="normal" font-family='"Liberation Sans", sans-serif'>E24</text>
<text x="267.9" y="218" font-size="4.5" fill="#f6eeee" text-anchor="middle" font-weight="normal" font-family='"Liberation Sans", sans-serif'>E26</text>
<text x="267.9" y="227.7" font-size="4.5" fill="#f6eeee" text-anchor="middle" font-weight="normal" font-family='"Liberation Sans", sans-serif'>E28</text>
<text x="267.9" y="235.1" font-size="4.5" fill="#f6eeee" text-anchor="middle" font-weight="normal" font-family='"Liberation Sans", sans-serif'>E30</text>
<text x="267.9" y="245.2" font-size="4.5" fill="#f6eeee" text-anchor="middle" font-weight="normal" font-family='"Liberation Sans", sans-serif'>E32</text>
<text x="267.9" y="252.6" font-size="4.5" fill="#f6eeee" text-anchor="middle" font-weight="normal" font-family='"Liberation Sans", sans-serif'>E34</text>
<text x="267.9" y="263.4" font-size="4.5" fill="#f6eeee" text-anchor="middle" font-weight="normal" font-family='"Liberation Sans", sans-serif'>E36</text>
<text x="267.9" y="270.8" font-size="4.5" fill="#f6eeee" text-anchor="middle" font-weight="normal" font-family='"Liberation Sans", sans-serif'>E38</text>
<text x="267.9" y="282.3" font-size="4.5" fill="#f6eeee" text-anchor="middle" font-weight="normal" font-family='"Liberation Sans", sans-serif'>E40</text>
<text x="267.9" y="289.7" font-size="4.5" fill="#f6eeee" text-anchor="middle" font-weight="normal" font-family='"Liberation Sans", sans-serif'>E42</text>
<text x="267.9" y="299.8" font-size="4.5" fill="#f6eeee" text-anchor="middle" font-weight="normal" font-family='"Liberation Sans", sans-serif'>E44</text>
<text x="267.9" y="307.2" font-size="4.5" fill="#f6eeee" text-anchor="middle" font-weight="normal" font-family='"Liberation Sans", sans-serif'>E46</text>
<text x="267.9" y="318.9" font-size="4.5" fill="#f6eeee" text-anchor="middle" font-weight="normal" font-family='"Liberation Sans", sans-serif'>E48</text>
<text x="267.9" y="326.3" font-size="4.5" fill="#f6eeee" text-anchor="middle" font-weight="normal" font-family='"Liberation Sans", sans-serif'>E50</text>
<text x="267.9" y="336" font-size="4.5" fill="#f6eeee" text-anchor="middle" font-weight="normal" font-family='"Liberation Sans", sans-serif'>E52</text>
<text x="267.9" y="343.4" font-size="4.5" fill="#f6eeee" text-anchor="middle" font-weight="normal" font-family='"Liberation Sans", sans-serif'>E54</text>
<text x="267.9" y="355.3" font-size="4.5" fill="#f6eeee" text-anchor="middle" font-weight="normal" font-family='"Liberation Sans", sans-serif'>E56</text>
<text x="267.9" y="381" font-size="4.5" fill="#f6eeee" text-anchor="middle" font-weight="normal" font-family='"Liberation Sans", sans-serif'>E62</text>
<text x="267.9" y="391.8" font-size="4.5" fill="#f6eeee" text-anchor="middle" font-weight="normal" font-family='"Liberation Sans", sans-serif'>E64</text>
<text x="267.9" y="399.2" font-size="4.5" fill="#f6eeee" text-anchor="middle" font-weight="normal" font-family='"Liberation Sans", sans-serif'>E66</text>
<text x="267.9" y="411.1" font-size="4.5" fill="#f6eeee" text-anchor="middle" font-weight="normal" font-family='"Liberation Sans", sans-serif'>E68</text>
<text x="267.9" y="418.5" font-size="4.5" fill="#f6eeee" text-anchor="middle" font-weight="normal" font-family='"Liberation Sans", sans-serif'>E70</text>
<text x="267.9" y="428.3" font-size="4.5" fill="#f6eeee" text-anchor="middle" font-weight="normal" font-family='"Liberation Sans", sans-serif'>E72</text>
<text x="267.9" y="435.7" font-size="4.5" fill="#f6eeee" text-anchor="middle" font-weight="normal" font-family='"Liberation Sans", sans-serif'>E74</text>
<text x="267.9" y="446.2" font-size="4.5" fill="#f6eeee" text-anchor="middle" font-weight="normal" font-family='"Liberation Sans", sans-serif'>E76</text>
<text x="267.9" y="453.6" font-size="4.5" fill="#f6eeee" text-anchor="middle" font-weight="normal" font-family='"Liberation Sans", sans-serif'>E78</text>
<text x="267.9" y="466.5" font-size="4.5" fill="#f6eeee" text-anchor="middle" font-weight="normal" font-family='"Liberation Sans", sans-serif'>E80</text>
<text x="267.9" y="473.9" font-size="4.5" fill="#f6eeee" text-anchor="middle" font-weight="normal" font-family='"Liberation Sans", sans-serif'>E82</text>
<text x="267.9" y="486.7" font-size="4.5" fill="#f6eeee" text-anchor="middle" font-weight="normal" font-family='"Liberation Sans", sans-serif'>E84</text>
<rect x="283.8" y="125.7" width="22.7" height="7.6" fill="#d5202a"/>
<rect x="283.8" y="133.3" width="22.7" height="22" fill="#d5202a"/>
<rect x="283.8" y="155.3" width="22.7" height="20.6" fill="#d5202a"/>
<rect x="283.8" y="175.9" width="22.7" height="19.4" fill="#d5202a"/>
<rect x="283.8" y="195.3" width="22.7" height="17.1" fill="#d5202a"/>
<rect x="283.8" y="212.4" width="22.7" height="17.1" fill="#d5202a"/>
<rect x="283.8" y="229.5" width="22.7" height="17.5" fill="#d5202a"/>
<rect x="283.8" y="247" width="22.7" height="18.2" fill="#d5202a"/>
<rect x="283.8" y="265.2" width="22.7" height="18.9" fill="#d5202a"/>
<rect x="283.8" y="284.1" width="22.7" height="17.5" fill="#d5202a"/>
<rect x="283.8" y="301.6" width="22.7" height="19.1" fill="#d5202a"/>
<rect x="283.8" y="320.7" width="22.7" height="17.1" fill="#d5202a"/>
<rect x="283.8" y="337.8" width="22.7" height="19.3" fill="#d5202a"/>
<rect x="283.8" y="357.1" width="22.7" height="18.3" fill="#d5202a"/>
<rect x="283.8" y="375.4" width="22.7" height="18.2" fill="#d5202a"/>
<rect x="283.8" y="393.6" width="22.7" height="19.3" fill="#d5202a"/>
<rect x="283.8" y="412.9" width="22.7" height="17.2" fill="#d5202a"/>
<rect x="283.8" y="430.1" width="22.7" height="17.9" fill="#d5202a"/>
<rect x="283.8" y="448" width="22.7" height="20.3" fill="#d5202a"/>
<rect x="283.8" y="468.3" width="22.7" height="20.2" fill="#d5202a"/>
<text x="295.15" y="131.5" font-size="4.5" fill="#f6eeee" text-anchor="middle" font-weight="normal" font-family='"Liberation Sans", sans-serif'>E07</text>
<text x="295.15" y="138.9" font-size="4.5" fill="#f6eeee" text-anchor="middle" font-weight="normal" font-family='"Liberation Sans", sans-serif'>E09</text>
<text x="295.15" y="153.5" font-size="4.5" fill="#f6eeee" text-anchor="middle" font-weight="normal" font-family='"Liberation Sans", sans-serif'>E11</text>
<text x="295.15" y="160.9" font-size="4.5" fill="#f6eeee" text-anchor="middle" font-weight="normal" font-family='"Liberation Sans", sans-serif'>E13</text>
<text x="295.15" y="174.1" font-size="4.5" fill="#f6eeee" text-anchor="middle" font-weight="normal" font-family='"Liberation Sans", sans-serif'>E15</text>
<text x="295.15" y="181.5" font-size="4.5" fill="#f6eeee" text-anchor="middle" font-weight="normal" font-family='"Liberation Sans", sans-serif'>E17</text>
<text x="295.15" y="193.5" font-size="4.5" fill="#f6eeee" text-anchor="middle" font-weight="normal" font-family='"Liberation Sans", sans-serif'>E19</text>
<text x="295.15" y="200.9" font-size="4.5" fill="#f6eeee" text-anchor="middle" font-weight="normal" font-family='"Liberation Sans", sans-serif'>E21</text>
<text x="295.15" y="210.6" font-size="4.5" fill="#f6eeee" text-anchor="middle" font-weight="normal" font-family='"Liberation Sans", sans-serif'>E23</text>
<text x="295.15" y="218" font-size="4.5" fill="#f6eeee" text-anchor="middle" font-weight="normal" font-family='"Liberation Sans", sans-serif'>E25</text>
<text x="295.15" y="227.7" font-size="4.5" fill="#f6eeee" text-anchor="middle" font-weight="normal" font-family='"Liberation Sans", sans-serif'>E27</text>
<text x="295.15" y="235.1" font-size="4.5" fill="#f6eeee" text-anchor="middle" font-weight="normal" font-family='"Liberation Sans", sans-serif'>E29</text>
<text x="295.15" y="245.2" font-size="4.5" fill="#f6eeee" text-anchor="middle" font-weight="normal" font-family='"Liberation Sans", sans-serif'>E31</text>
<text x="295.15" y="252.6" font-size="4.5" fill="#f6eeee" text-anchor="middle" font-weight="normal" font-family='"Liberation Sans", sans-serif'>E33</text>
<text x="295.15" y="263.4" font-size="4.5" fill="#f6eeee" text-anchor="middle" font-weight="normal" font-family='"Liberation Sans", sans-serif'>E35</text>
<text x="295.15" y="270.8" font-size="4.5" fill="#f6eeee" text-anchor="middle" font-weight="normal" font-family='"Liberation Sans", sans-serif'>E37</text>
<text x="295.15" y="282.3" font-size="4.5" fill="#f6eeee" text-anchor="middle" font-weight="normal" font-family='"Liberation Sans", sans-serif'>E39</text>
<text x="295.15" y="289.7" font-size="4.5" fill="#f6eeee" text-anchor="middle" font-weight="normal" font-family='"Liberation Sans", sans-serif'>E41</text>
<text x="295.15" y="299.8" font-size="4.5" fill="#f6eeee" text-anchor="middle" font-weight="normal" font-family='"Liberation Sans", sans-serif'>E43</text>
<text x="295.15" y="307.2" font-size="4.5" fill="#f6eeee" text-anchor="middle" font-weight="normal" font-family='"Liberation Sans", sans-serif'>E45</text>
<text x="295.15" y="318.9" font-size="4.5" fill="#f6eeee" text-anchor="middle" font-weight="normal" font-family='"Liberation Sans", sans-serif'>E47</text>
<text x="295.15" y="326.3" font-size="4.5" fill="#f6eeee" text-anchor="middle" font-weight="normal" font-family='"Liberation Sans", sans-serif'>E49</text>
<text x="295.15" y="336" font-size="4.5" fill="#f6eeee" text-anchor="middle" font-weight="normal" font-family='"Liberation Sans", sans-serif'>E51</text>
<text x="295.15" y="343.4" font-size="4.5" fill="#f6eeee" text-anchor="middle" font-weight="normal" font-family='"Liberation Sans", sans-serif'>E53</text>
<text x="295.15" y="355.3" font-size="4.5" fill="#f6eeee" text-anchor="middle" font-weight="normal" font-family='"Liberation Sans", sans-serif'>E55</text>
<text x="295.15" y="362.7" font-size="4.5" fill="#f6eeee" text-anchor="middle" font-weight="normal" font-family='"Liberation Sans", sans-serif'>E57</text>
<text x="295.15" y="373.6" font-size="4.5" fill="#f6eeee" text-anchor="middle" font-weight="normal" font-family='"Liberation Sans", sans-serif'>E59</text>
<text x="295.15" y="381" font-size="4.5" fill="#f6eeee" text-anchor="middle" font-weight="normal" font-family='"Liberation Sans", sans-serif'>E61</text>
<text x="295.15" y="391.8" font-size="4.5" fill="#f6eeee" text-anchor="middle" font-weight="normal" font-family='"Liberation Sans", sans-serif'>E63</text>
<text x="295.15" y="399.2" font-size="4.5" fill="#f6eeee" text-anchor="middle" font-weight="normal" font-family='"Liberation Sans", sans-serif'>E65</text>
<text x="295.15" y="411.1" font-size="4.5" fill="#f6eeee" text-anchor="middle" font-weight="normal" font-family='"Liberation Sans", sans-serif'>E67</text>
<text x="295.15" y="418.5" font-size="4.5" fill="#f6eeee" text-anchor="middle" font-weight="normal" font-family='"Liberation Sans", sans-serif'>E69</text>
<text x="295.15" y="428.3" font-size="4.5" fill="#f6eeee" text-anchor="middle" font-weight="normal" font-family='"Liberation Sans", sans-serif'>E71</text>
<text x="295.15" y="435.7" font-size="4.5" fill="#f6eeee" text-anchor="middle" font-weight="normal" font-family='"Liberation Sans", sans-serif'>E73</text>
<text x="295.15" y="446.2" font-size="4.5" fill="#f6eeee" text-anchor="middle" font-weight="normal" font-family='"Liberation Sans", sans-serif'>E75</text>
<text x="295.15" y="453.6" font-size="4.5" fill="#f6eeee" text-anchor="middle" font-weight="normal" font-family='"Liberation Sans", sans-serif'>E77</text>
<text x="295.15" y="466.5" font-size="4.5" fill="#f6eeee" text-anchor="middle" font-weight="normal" font-family='"Liberation Sans", sans-serif'>E79</text>
<text x="295.15" y="473.9" font-size="4.5" fill="#f6eeee" text-anchor="middle" font-weight="normal" font-family='"Liberation Sans", sans-serif'>E81</text>
<text x="295.15" y="486.7" font-size="4.5" fill="#f6eeee" text-anchor="middle" font-weight="normal" font-family='"Liberation Sans", sans-serif'>E83</text>
<rect x="256.4" y="488.5" width="50.1" height="8.1" fill="#d5202a"/>
<text x="281.5" y="494.5" font-size="4.5" fill="#fff" text-anchor="middle" font-weight="normal" font-family='"Liberation Sans", sans-serif'>E85</text>
<line x1="279.4" y1="92.5" x2="279.4" y2="488.5" stroke="#3f3a2c" stroke-width="0.8"/>
<line x1="283.8" y1="125.7" x2="283.8" y2="488.5" stroke="#3f3a2c" stroke-width="0.8"/>
<rect x="256.4" y="112.5" width="23" height="2.6" fill="#2c2620"/>
<rect x="256.9" y="113.25" width="22" height="1.1" fill="#d9a764"/>
<rect x="256.4" y="132" width="50.1" height="2.6" fill="#2c2620"/>
<rect x="256.9" y="132.75" width="49.1" height="1.1" fill="#d9a764"/>
<rect x="256.4" y="154" width="50.1" height="2.6" fill="#2c2620"/>
<rect x="256.9" y="154.75" width="49.1" height="1.1" fill="#d9a764"/>
<rect x="256.4" y="174.6" width="50.1" height="2.6" fill="#2c2620"/>
<rect x="256.9" y="175.35" width="49.1" height="1.1" fill="#d9a764"/>
<rect x="256.4" y="194" width="50.1" height="2.6" fill="#2c2620"/>
<rect x="256.9" y="194.75" width="49.1" height="1.1" fill="#d9a764"/>
<rect x="256.4" y="211.1" width="50.1" height="2.6" fill="#2c2620"/>
<rect x="256.9" y="211.85" width="49.1" height="1.1" fill="#d9a764"/>
<rect x="256.4" y="228.2" width="50.1" height="2.6" fill="#2c2620"/>
<rect x="256.9" y="228.95" width="49.1" height="1.1" fill="#d9a764"/>
<rect x="256.4" y="245.7" width="50.1" height="2.6" fill="#2c2620"/>
<rect x="256.9" y="246.45" width="49.1" height="1.1" fill="#d9a764"/>
<rect x="256.4" y="263.9" width="50.1" height="2.6" fill="#2c2620"/>
<rect x="256.9" y="264.65" width="49.1" height="1.1" fill="#d9a764"/>
<rect x="256.4" y="282.8" width="50.1" height="2.6" fill="#2c2620"/>
<rect x="256.9" y="283.55" width="49.1" height="1.1" fill="#d9a764"/>
<rect x="256.4" y="300.3" width="50.1" height="2.6" fill="#2c2620"/>
<rect x="256.9" y="301.05" width="49.1" height="1.1" fill="#d9a764"/>
<rect x="256.4" y="319.4" width="50.1" height="2.6" fill="#2c2620"/>
<rect x="256.9" y="320.15" width="49.1" height="1.1" fill="#d9a764"/>
<rect x="256.4" y="336.5" width="50.1" height="2.6" fill="#2c2620"/>
<rect x="256.9" y="337.25" width="49.1" height="1.1" fill="#d9a764"/>
<rect x="256.4" y="355.8" width="50.1" height="2.6" fill="#2c2620"/>
<rect x="256.9" y="356.55" width="49.1" height="1.1" fill="#d9a764"/>
<rect x="256.4" y="374.1" width="50.1" height="2.6" fill="#2c2620"/>
<rect x="256.9" y="374.85" width="49.1" height="1.1" fill="#d9a764"/>
<rect x="256.4" y="392.3" width="50.1" height="2.6" fill="#2c2620"/>
<rect x="256.9" y="393.05" width="49.1" height="1.1" fill="#d9a764"/>
<rect x="256.4" y="411.6" width="50.1" height="2.6" fill="#2c2620"/>
<rect x="256.9" y="412.35" width="49.1" height="1.1" fill="#d9a764"/>
<rect x="256.4" y="428.8" width="50.1" height="2.6" fill="#2c2620"/>
<rect x="256.9" y="429.55" width="49.1" height="1.1" fill="#d9a764"/>
<rect x="256.4" y="446.7" width="50.1" height="2.6" fill="#2c2620"/>
<rect x="256.9" y="447.45" width="49.1" height="1.1" fill="#d9a764"/>
<rect x="256.4" y="467" width="50.1" height="2.6" fill="#2c2620"/>
<rect x="256.9" y="467.75" width="49.1" height="1.1" fill="#d9a764"/>
<rect x="256.4" y="487.2" width="50.1" height="2.6" fill="#2c2620"/>
<rect x="256.9" y="487.95" width="49.1" height="1.1" fill="#d9a764"/>
<rect x="270.3" y="286" width="8.7" height="7.8" fill="#e6e6e6"/>
<rect x="270.3" y="286" width="8.7" height="0.95" fill="#111"/>
<rect x="270.3" y="289.43" width="8.7" height="0.95" fill="#111"/>
<rect x="270.3" y="292.85" width="8.7" height="0.95" fill="#111"/>
<g transform="translate(281.7 0) scale(0.76 1)">
<text x="0" y="516.9" font-size="18.5" fill="#111" text-anchor="middle" font-weight="bold" font-family='"Liberation Sans", sans-serif' stroke="#111" stroke-width="0.7">E</text>
</g>
<rect x="329.6" y="92.5" width="23" height="14.5" fill="#d5202a"/>
<rect x="329.6" y="107" width="23" height="19.4" fill="#d5202a"/>
<rect x="329.6" y="126.4" width="23" height="18.6" fill="#d5202a"/>
<rect x="329.6" y="145" width="23" height="18.3" fill="#d5202a"/>
<rect x="329.6" y="163.3" width="23" height="18.1" fill="#d5202a"/>
<rect x="329.6" y="181.4" width="23" height="18.4" fill="#d5202a"/>
<rect x="329.6" y="199.8" width="23" height="19.4" fill="#d5202a"/>
<rect x="329.6" y="219.2" width="23" height="18.2" fill="#d5202a"/>
<rect x="329.6" y="237.4" width="23" height="15.9" fill="#d5202a"/>
<rect x="329.6" y="253.3" width="23" height="17.6" fill="#d5202a"/>
<rect x="329.6" y="270.9" width="23" height="17.1" fill="#d5202a"/>
<rect x="329.6" y="288" width="23" height="11.5" fill="#d5202a"/>
<text x="341.1" y="98.1" font-size="4.5" fill="#f6eeee" text-anchor="middle" font-weight="normal" font-family='"Liberation Sans", sans-serif'>F02</text>
<text x="341.1" y="105.2" font-size="4.5" fill="#f6eeee" text-anchor="middle" font-weight="normal" font-family='"Liberation Sans", sans-serif'>F04</text>
<text x="341.1" y="112.6" font-size="4.5" fill="#f6eeee" text-anchor="middle" font-weight="normal" font-family='"Liberation Sans", sans-serif'>F06</text>
<text x="341.1" y="124.6" font-size="4.5" fill="#f6eeee" text-anchor="middle" font-weight="normal" font-family='"Liberation Sans", sans-serif'>F08</text>
<text x="341.1" y="132" font-size="4.5" fill="#f6eeee" text-anchor="middle" font-weight="normal" font-family='"Liberation Sans", sans-serif'>F10</text>
<text x="341.1" y="143.2" font-size="4.5" fill="#f6eeee" text-anchor="middle" font-weight="normal" font-family='"Liberation Sans", sans-serif'>F12</text>
<text x="341.1" y="150.6" font-size="4.5" fill="#f6eeee" text-anchor="middle" font-weight="normal" font-family='"Liberation Sans", sans-serif'>F14</text>
<text x="341.1" y="161.5" font-size="4.5" fill="#f6eeee" text-anchor="middle" font-weight="normal" font-family='"Liberation Sans", sans-serif'>F16</text>
<text x="341.1" y="168.9" font-size="4.5" fill="#f6eeee" text-anchor="middle" font-weight="normal" font-family='"Liberation Sans", sans-serif'>F18</text>
<text x="341.1" y="179.6" font-size="4.5" fill="#f6eeee" text-anchor="middle" font-weight="normal" font-family='"Liberation Sans", sans-serif'>F20</text>
<text x="341.1" y="187" font-size="4.5" fill="#f6eeee" text-anchor="middle" font-weight="normal" font-family='"Liberation Sans", sans-serif'>F22</text>
<text x="341.1" y="198" font-size="4.5" fill="#f6eeee" text-anchor="middle" font-weight="normal" font-family='"Liberation Sans", sans-serif'>F24</text>
<text x="341.1" y="205.4" font-size="4.5" fill="#f6eeee" text-anchor="middle" font-weight="normal" font-family='"Liberation Sans", sans-serif'>F26</text>
<text x="341.1" y="217.4" font-size="4.5" fill="#f6eeee" text-anchor="middle" font-weight="normal" font-family='"Liberation Sans", sans-serif'>F28</text>
<text x="341.1" y="224.8" font-size="4.5" fill="#f6eeee" text-anchor="middle" font-weight="normal" font-family='"Liberation Sans", sans-serif'>F30</text>
<text x="341.1" y="235.6" font-size="4.5" fill="#f6eeee" text-anchor="middle" font-weight="normal" font-family='"Liberation Sans", sans-serif'>F32</text>
<text x="341.1" y="243" font-size="4.5" fill="#f6eeee" text-anchor="middle" font-weight="normal" font-family='"Liberation Sans", sans-serif'>F34</text>
<text x="341.1" y="251.5" font-size="4.5" fill="#f6eeee" text-anchor="middle" font-weight="normal" font-family='"Liberation Sans", sans-serif'>F36</text>
<text x="341.1" y="258.9" font-size="4.5" fill="#f6eeee" text-anchor="middle" font-weight="normal" font-family='"Liberation Sans", sans-serif'>F38</text>
<text x="341.1" y="269.1" font-size="4.5" fill="#f6eeee" text-anchor="middle" font-weight="normal" font-family='"Liberation Sans", sans-serif'>F40</text>
<text x="341.1" y="276.5" font-size="4.5" fill="#f6eeee" text-anchor="middle" font-weight="normal" font-family='"Liberation Sans", sans-serif'>F42</text>
<text x="341.1" y="286.2" font-size="4.5" fill="#f6eeee" text-anchor="middle" font-weight="normal" font-family='"Liberation Sans", sans-serif'>F44</text>
<text x="341.1" y="293.6" font-size="4.5" fill="#f6eeee" text-anchor="middle" font-weight="normal" font-family='"Liberation Sans", sans-serif'>F46</text>
<text x="341.1" y="297.7" font-size="4.5" fill="#f6eeee" text-anchor="middle" font-weight="normal" font-family='"Liberation Sans", sans-serif'>F48</text>
<rect x="357" y="92.5" width="22.7" height="14.5" fill="#d5202a"/>
<rect x="357" y="107" width="22.7" height="19.4" fill="#d5202a"/>
<rect x="357" y="126.4" width="22.7" height="18.6" fill="#d5202a"/>
<rect x="357" y="145" width="22.7" height="18.3" fill="#d5202a"/>
<rect x="357" y="163.3" width="22.7" height="18.1" fill="#d5202a"/>
<rect x="357" y="181.4" width="22.7" height="18.4" fill="#d5202a"/>
<rect x="357" y="199.8" width="22.7" height="19.4" fill="#d5202a"/>
<rect x="357" y="219.2" width="22.7" height="18.2" fill="#d5202a"/>
<rect x="357" y="237.4" width="22.7" height="15.9" fill="#d5202a"/>
<rect x="357" y="253.3" width="22.7" height="17.6" fill="#d5202a"/>
<rect x="357" y="270.9" width="22.7" height="17.1" fill="#d5202a"/>
<rect x="357" y="288" width="22.7" height="11.5" fill="#d5202a"/>
<text x="368.35" y="98.1" font-size="4.5" fill="#f6eeee" text-anchor="middle" font-weight="normal" font-family='"Liberation Sans", sans-serif'>F01</text>
<text x="368.35" y="105.2" font-size="4.5" fill="#f6eeee" text-anchor="middle" font-weight="normal" font-family='"Liberation Sans", sans-serif'>F03</text>
<text x="368.35" y="112.6" font-size="4.5" fill="#f6eeee" text-anchor="middle" font-weight="normal" font-family='"Liberation Sans", sans-serif'>F05</text>
<text x="368.35" y="124.6" font-size="4.5" fill="#f6eeee" text-anchor="middle" font-weight="normal" font-family='"Liberation Sans", sans-serif'>F07</text>
<text x="368.35" y="132" font-size="4.5" fill="#f6eeee" text-anchor="middle" font-weight="normal" font-family='"Liberation Sans", sans-serif'>F09</text>
<text x="368.35" y="143.2" font-size="4.5" fill="#f6eeee" text-anchor="middle" font-weight="normal" font-family='"Liberation Sans", sans-serif'>F11</text>
<text x="368.35" y="150.6" font-size="4.5" fill="#f6eeee" text-anchor="middle" font-weight="normal" font-family='"Liberation Sans", sans-serif'>F13</text>
<text x="368.35" y="161.5" font-size="4.5" fill="#f6eeee" text-anchor="middle" font-weight="normal" font-family='"Liberation Sans", sans-serif'>F15</text>
<text x="368.35" y="168.9" font-size="4.5" fill="#f6eeee" text-anchor="middle" font-weight="normal" font-family='"Liberation Sans", sans-serif'>F17</text>
<text x="368.35" y="179.6" font-size="4.5" fill="#f6eeee" text-anchor="middle" font-weight="normal" font-family='"Liberation Sans", sans-serif'>F19</text>
<text x="368.35" y="187" font-size="4.5" fill="#f6eeee" text-anchor="middle" font-weight="normal" font-family='"Liberation Sans", sans-serif'>F21</text>
<text x="368.35" y="198" font-size="4.5" fill="#f6eeee" text-anchor="middle" font-weight="normal" font-family='"Liberation Sans", sans-serif'>F23</text>
<text x="368.35" y="205.4" font-size="4.5" fill="#f6eeee" text-anchor="middle" font-weight="normal" font-family='"Liberation Sans", sans-serif'>F25</text>
<text x="368.35" y="217.4" font-size="4.5" fill="#f6eeee" text-anchor="middle" font-weight="normal" font-family='"Liberation Sans", sans-serif'>F27</text>
<text x="368.35" y="224.8" font-size="4.5" fill="#f6eeee" text-anchor="middle" font-weight="normal" font-family='"Liberation Sans", sans-serif'>F29</text>
<text x="368.35" y="235.6" font-size="4.5" fill="#f6eeee" text-anchor="middle" font-weight="normal" font-family='"Liberation Sans", sans-serif'>F31</text>
<text x="368.35" y="243" font-size="4.5" fill="#f6eeee" text-anchor="middle" font-weight="normal" font-family='"Liberation Sans", sans-serif'>F33</text>
<text x="368.35" y="251.5" font-size="4.5" fill="#f6eeee" text-anchor="middle" font-weight="normal" font-family='"Liberation Sans", sans-serif'>F35</text>
<text x="368.35" y="258.9" font-size="4.5" fill="#f6eeee" text-anchor="middle" font-weight="normal" font-family='"Liberation Sans", sans-serif'>F37</text>
<text x="368.35" y="269.1" font-size="4.5" fill="#f6eeee" text-anchor="middle" font-weight="normal" font-family='"Liberation Sans", sans-serif'>F39</text>
<text x="368.35" y="276.5" font-size="4.5" fill="#f6eeee" text-anchor="middle" font-weight="normal" font-family='"Liberation Sans", sans-serif'>F41</text>
<text x="368.35" y="286.2" font-size="4.5" fill="#f6eeee" text-anchor="middle" font-weight="normal" font-family='"Liberation Sans", sans-serif'>F43</text>
<text x="368.35" y="293.6" font-size="4.5" fill="#f6eeee" text-anchor="middle" font-weight="normal" font-family='"Liberation Sans", sans-serif'>F45</text>
<text x="368.35" y="297.7" font-size="4.5" fill="#f6eeee" text-anchor="middle" font-weight="normal" font-family='"Liberation Sans", sans-serif'>F47</text>
<rect x="357" y="299.5" width="22.7" height="16" fill="#17a44b"/>
<rect x="357" y="315.5" width="22.7" height="27.3" fill="#17a44b"/>
<rect x="357" y="342.8" width="22.7" height="29.2" fill="#17a44b"/>
<rect x="357" y="372" width="22.7" height="26.2" fill="#17a44b"/>
<rect x="357" y="398.2" width="22.7" height="28.8" fill="#17a44b"/>
<rect x="357" y="427" width="22.7" height="27.9" fill="#17a44b"/>
<rect x="357" y="454.9" width="22.7" height="26.6" fill="#17a44b"/>
<text x="368.35" y="313.7" font-size="4.5" fill="#f6eeee" text-anchor="middle" font-weight="normal" font-family='"Liberation Sans", sans-serif'>F47</text>
<text x="368.35" y="321.1" font-size="4.5" fill="#f6eeee" text-anchor="middle" font-weight="normal" font-family='"Liberation Sans", sans-serif'>F49</text>
<text x="368.35" y="341" font-size="4.5" fill="#f6eeee" text-anchor="middle" font-weight="normal" font-family='"Liberation Sans", sans-serif'>F51</text>
<text x="368.35" y="348.4" font-size="4.5" fill="#f6eeee" text-anchor="middle" font-weight="normal" font-family='"Liberation Sans", sans-serif'>F53</text>
<text x="368.35" y="370.2" font-size="4.5" fill="#f6eeee" text-anchor="middle" font-weight="normal" font-family='"Liberation Sans", sans-serif'>F55</text>
<text x="368.35" y="377.6" font-size="4.5" fill="#f6eeee" text-anchor="middle" font-weight="normal" font-family='"Liberation Sans", sans-serif'>F57</text>
<text x="368.35" y="396.4" font-size="4.5" fill="#f6eeee" text-anchor="middle" font-weight="normal" font-family='"Liberation Sans", sans-serif'>F59</text>
<text x="368.35" y="403.8" font-size="4.5" fill="#f6eeee" text-anchor="middle" font-weight="normal" font-family='"Liberation Sans", sans-serif'>F61</text>
<text x="368.35" y="425.2" font-size="4.5" fill="#f6eeee" text-anchor="middle" font-weight="normal" font-family='"Liberation Sans", sans-serif'>F63</text>
<text x="368.35" y="432.6" font-size="4.5" fill="#f6eeee" text-anchor="middle" font-weight="normal" font-family='"Liberation Sans", sans-serif'>F65</text>
<text x="368.35" y="453.1" font-size="4.5" fill="#f6eeee" text-anchor="middle" font-weight="normal" font-family='"Liberation Sans", sans-serif'>F67</text>
<text x="368.35" y="460.5" font-size="4.5" fill="#f6eeee" text-anchor="middle" font-weight="normal" font-family='"Liberation Sans", sans-serif'>F69</text>
<text x="368.35" y="479.7" font-size="4.5" fill="#f6eeee" text-anchor="middle" font-weight="normal" font-family='"Liberation Sans", sans-serif'>F71</text>
<rect x="341.6" y="299.5" width="10.8" height="186.3" fill="#d5c85b"/>
<text x="347" y="395" font-size="4.6" fill="#2a2a2a" text-anchor="middle" font-family='"Liberation Sans", sans-serif' transform="rotate(90 347 395)">F48</text>
<line x1="352.6" y1="92.5" x2="352.6" y2="299.5" stroke="#3f3a2c" stroke-width="0.8"/>
<line x1="357" y1="92.5" x2="357" y2="481" stroke="#3f3a2c" stroke-width="0.8"/>
<rect x="329.6" y="105.7" width="50.1" height="2.6" fill="#2c2620"/>
<rect x="330.1" y="106.45" width="49.1" height="1.1" fill="#d9a764"/>
<rect x="329.6" y="125.1" width="50.1" height="2.6" fill="#2c2620"/>
<rect x="330.1" y="125.85" width="49.1" height="1.1" fill="#d9a764"/>
<rect x="329.6" y="143.7" width="50.1" height="2.6" fill="#2c2620"/>
<rect x="330.1" y="144.45" width="49.1" height="1.1" fill="#d9a764"/>
<rect x="329.6" y="162" width="50.1" height="2.6" fill="#2c2620"/>
<rect x="330.1" y="162.75" width="49.1" height="1.1" fill="#d9a764"/>
<rect x="329.6" y="180.1" width="50.1" height="2.6" fill="#2c2620"/>
<rect x="330.1" y="180.85" width="49.1" height="1.1" fill="#d9a764"/>
<rect x="329.6" y="198.5" width="50.1" height="2.6" fill="#2c2620"/>
<rect x="330.1" y="199.25" width="49.1" height="1.1" fill="#d9a764"/>
<rect x="329.6" y="217.9" width="50.1" height="2.6" fill="#2c2620"/>
<rect x="330.1" y="218.65" width="49.1" height="1.1" fill="#d9a764"/>
<rect x="329.6" y="236.1" width="50.1" height="2.6" fill="#2c2620"/>
<rect x="330.1" y="236.85" width="49.1" height="1.1" fill="#d9a764"/>
<rect x="329.6" y="252" width="50.1" height="2.6" fill="#2c2620"/>
<rect x="330.1" y="252.75" width="49.1" height="1.1" fill="#d9a764"/>
<rect x="329.6" y="269.6" width="50.1" height="2.6" fill="#2c2620"/>
<rect x="330.1" y="270.35" width="49.1" height="1.1" fill="#d9a764"/>
<rect x="329.6" y="286.7" width="50.1" height="2.6" fill="#2c2620"/>
<rect x="330.1" y="287.45" width="49.1" height="1.1" fill="#d9a764"/>
<rect x="357" y="314.2" width="22.7" height="2.6" fill="#2c2620"/>
<rect x="357.5" y="314.95" width="21.7" height="1.1" fill="#d9a764"/>
<rect x="357" y="341.5" width="22.7" height="2.6" fill="#2c2620"/>
<rect x="357.5" y="342.25" width="21.7" height="1.1" fill="#d9a764"/>
<rect x="357" y="370.7" width="22.7" height="2.6" fill="#2c2620"/>
<rect x="357.5" y="371.45" width="21.7" height="1.1" fill="#d9a764"/>
<rect x="357" y="396.9" width="22.7" height="2.6" fill="#2c2620"/>
<rect x="357.5" y="397.65" width="21.7" height="1.1" fill="#d9a764"/>
<rect x="357" y="425.7" width="22.7" height="2.6" fill="#2c2620"/>
<rect x="357.5" y="426.45" width="21.7" height="1.1" fill="#d9a764"/>
<rect x="357" y="453.6" width="22.7" height="2.6" fill="#2c2620"/>
<rect x="357.5" y="454.35" width="21.7" height="1.1" fill="#d9a764"/>
<rect x="352.4" y="481.2" width="27.3" height="4" fill="#d9a764" stroke="#3f3a2c" stroke-width="0.6"/>
<rect x="352.4" y="485.3" width="27.3" height="7.2" fill="#17a44b"/>
<text x="366" y="490.8" font-size="4.5" fill="#fff" text-anchor="middle" font-weight="normal" font-family='"Liberation Sans", sans-serif'>F73</text>
<rect x="343" y="273.8" width="9" height="7" fill="#e6e6e6"/>
<rect x="343" y="273.8" width="9" height="0.95" fill="#111"/>
<rect x="343" y="276.82" width="9" height="0.95" fill="#111"/>
<rect x="343" y="279.85" width="9" height="0.95" fill="#111"/>
<g transform="translate(354 0) scale(0.76 1)">
<text x="0" y="517.1" font-size="18.5" fill="#111" text-anchor="middle" font-weight="bold" font-family='"Liberation Sans", sans-serif' stroke="#111" stroke-width="0.7">F</text>
</g>
<rect x="422.4" y="92.5" width="10.4" height="371.5" fill="#d5c85b"/>
<text x="427.6" y="278" font-size="4.6" fill="#2a2a2a" text-anchor="middle" font-family='"Liberation Sans", sans-serif' transform="rotate(90 427.6 278)">G00</text>
<rect x="439.5" y="135" width="10.1" height="329" fill="#d5c85b"/>
<text x="444.6" y="278" font-size="4.6" fill="#2a2a2a" text-anchor="middle" font-family='"Liberation Sans", sans-serif' transform="rotate(90 444.6 278)">G00</text>
<rect x="439.5" y="92.5" width="20" height="16.7" fill="#d5202a"/>
<rect x="439.5" y="109.2" width="20" height="17" fill="#d5202a"/>
<rect x="439.5" y="126.2" width="20" height="8.8" fill="#d5202a"/>
<text x="449.5" y="98.1" font-size="4.5" fill="#f6eeee" text-anchor="middle" font-weight="normal" font-family='"Liberation Sans", sans-serif'>GN1</text>
<text x="449.5" y="107.4" font-size="4.5" fill="#f6eeee" text-anchor="middle" font-weight="normal" font-family='"Liberation Sans", sans-serif'>GN2</text>
<text x="449.5" y="114.8" font-size="4.5" fill="#f6eeee" text-anchor="middle" font-weight="normal" font-family='"Liberation Sans", sans-serif'>GN3</text>
<text x="449.5" y="124.4" font-size="4.5" fill="#f6eeee" text-anchor="middle" font-weight="normal" font-family='"Liberation Sans", sans-serif'>GN4</text>
<text x="449.5" y="131.8" font-size="4.5" fill="#f6eeee" text-anchor="middle" font-weight="normal" font-family='"Liberation Sans", sans-serif'>GN5</text>
<rect x="439.5" y="107.9" width="20" height="2.6" fill="#2c2620"/>
<rect x="440" y="108.65" width="19" height="1.1" fill="#d9a764"/>
<rect x="439.5" y="124.9" width="20" height="2.6" fill="#2c2620"/>
<rect x="440" y="125.65" width="19" height="1.1" fill="#d9a764"/>
<g transform="translate(435.2 0) scale(0.76 1)">
<text x="0" y="483.4" font-size="18.5" fill="#111" text-anchor="middle" font-weight="bold" font-family='"Liberation Sans", sans-serif' stroke="#111" stroke-width="0.7">G</text>
</g>
<rect x="495.6" y="92.5" width="25" height="18.87" fill="#f08429"/>
<rect x="495.6" y="111.37" width="25" height="18.87" fill="#f08429"/>
<rect x="495.6" y="130.24" width="25" height="18.87" fill="#f08429"/>
<rect x="495.6" y="149.11" width="25" height="18.87" fill="#f08429"/>
<rect x="495.6" y="167.98" width="25" height="18.87" fill="#f08429"/>
<rect x="495.6" y="186.85" width="25" height="18.87" fill="#f08429"/>
<rect x="495.6" y="205.72" width="25" height="18.87" fill="#f08429"/>
<rect x="495.6" y="224.59" width="25" height="18.87" fill="#f08429"/>
<rect x="495.6" y="243.46" width="25" height="18.87" fill="#f08429"/>
<rect x="495.6" y="262.33" width="25" height="18.87" fill="#f08429"/>
<rect x="495.6" y="281.2" width="25" height="9" fill="#f08429"/>
<text x="508.1" y="98.1" font-size="4.5" fill="#f6eeee" text-anchor="middle" font-weight="normal" font-family='"Liberation Sans", sans-serif'>H02</text>
<text x="508.1" y="109.57" font-size="4.5" fill="#f6eeee" text-anchor="middle" font-weight="normal" font-family='"Liberation Sans", sans-serif'>H04</text>
<text x="508.1" y="116.97" font-size="4.5" fill="#f6eeee" text-anchor="middle" font-weight="normal" font-family='"Liberation Sans", sans-serif'>H06</text>
<text x="508.1" y="128.44" font-size="4.5" fill="#f6eeee" text-anchor="middle" font-weight="normal" font-family='"Liberation Sans", sans-serif'>H08</text>
<text x="508.1" y="135.84" font-size="4.5" fill="#f6eeee" text-anchor="middle" font-weight="normal" font-family='"Liberation Sans", sans-serif'>H10</text>
<text x="508.1" y="147.31" font-size="4.5" fill="#f6eeee" text-anchor="middle" font-weight="normal" font-family='"Liberation Sans", sans-serif'>H12</text>
<text x="508.1" y="154.71" font-size="4.5" fill="#f6eeee" text-anchor="middle" font-weight="normal" font-family='"Liberation Sans", sans-serif'>H14</text>
<text x="508.1" y="166.18" font-size="4.5" fill="#f6eeee" text-anchor="middle" font-weight="normal" font-family='"Liberation Sans", sans-serif'>H16</text>
<text x="508.1" y="173.58" font-size="4.5" fill="#f6eeee" text-anchor="middle" font-weight="normal" font-family='"Liberation Sans", sans-serif'>H18</text>
<text x="508.1" y="185.05" font-size="4.5" fill="#f6eeee" text-anchor="middle" font-weight="normal" font-family='"Liberation Sans", sans-serif'>H20</text>
<text x="508.1" y="192.45" font-size="4.5" fill="#f6eeee" text-anchor="middle" font-weight="normal" font-family='"Liberation Sans", sans-serif'>H22</text>
<text x="508.1" y="203.92" font-size="4.5" fill="#f6eeee" text-anchor="middle" font-weight="normal" font-family='"Liberation Sans", sans-serif'>H24</text>
<text x="508.1" y="211.32" font-size="4.5" fill="#f6eeee" text-anchor="middle" font-weight="normal" font-family='"Liberation Sans", sans-serif'>H26</text>
<text x="508.1" y="222.79" font-size="4.5" fill="#f6eeee" text-anchor="middle" font-weight="normal" font-family='"Liberation Sans", sans-serif'>H28</text>
<text x="508.1" y="230.19" font-size="4.5" fill="#f6eeee" text-anchor="middle" font-weight="normal" font-family='"Liberation Sans", sans-serif'>H30</text>
<text x="508.1" y="241.66" font-size="4.5" fill="#f6eeee" text-anchor="middle" font-weight="normal" font-family='"Liberation Sans", sans-serif'>H32</text>
<text x="508.1" y="249.06" font-size="4.5" fill="#f6eeee" text-anchor="middle" font-weight="normal" font-family='"Liberation Sans", sans-serif'>H34</text>
<text x="508.1" y="260.53" font-size="4.5" fill="#f6eeee" text-anchor="middle" font-weight="normal" font-family='"Liberation Sans", sans-serif'>H36</text>
<text x="508.1" y="267.93" font-size="4.5" fill="#f6eeee" text-anchor="middle" font-weight="normal" font-family='"Liberation Sans", sans-serif'>H38</text>
<text x="508.1" y="279.4" font-size="4.5" fill="#f6eeee" text-anchor="middle" font-weight="normal" font-family='"Liberation Sans", sans-serif'>H40</text>
<text x="508.1" y="286.8" font-size="4.5" fill="#f6eeee" text-anchor="middle" font-weight="normal" font-family='"Liberation Sans", sans-serif'>H42</text>
<text x="508.1" y="288.4" font-size="4.5" fill="#f6eeee" text-anchor="middle" font-weight="normal" font-family='"Liberation Sans", sans-serif'>H44</text>
<rect x="525" y="92.5" width="25.2" height="18.87" fill="#f08429"/>
<rect x="525" y="111.37" width="25.2" height="18.87" fill="#f08429"/>
<rect x="525" y="130.24" width="25.2" height="18.87" fill="#f08429"/>
<rect x="525" y="149.11" width="25.2" height="18.87" fill="#f08429"/>
<rect x="525" y="167.98" width="25.2" height="18.87" fill="#f08429"/>
<rect x="525" y="186.85" width="25.2" height="18.87" fill="#f08429"/>
<rect x="525" y="205.72" width="25.2" height="18.87" fill="#f08429"/>
<rect x="525" y="224.59" width="25.2" height="18.87" fill="#f08429"/>
<rect x="525" y="243.46" width="25.2" height="18.87" fill="#f08429"/>
<rect x="525" y="262.33" width="25.2" height="18.87" fill="#f08429"/>
<rect x="525" y="281.2" width="25.2" height="9" fill="#f08429"/>
<text x="537.6" y="98.1" font-size="4.5" fill="#f6eeee" text-anchor="middle" font-weight="normal" font-family='"Liberation Sans", sans-serif'>H01</text>
<text x="537.6" y="109.57" font-size="4.5" fill="#f6eeee" text-anchor="middle" font-weight="normal" font-family='"Liberation Sans", sans-serif'>H03</text>
<text x="537.6" y="116.97" font-size="4.5" fill="#f6eeee" text-anchor="middle" font-weight="normal" font-family='"Liberation Sans", sans-serif'>H05</text>
<text x="537.6" y="128.44" font-size="4.5" fill="#f6eeee" text-anchor="middle" font-weight="normal" font-family='"Liberation Sans", sans-serif'>H07</text>
<text x="537.6" y="135.84" font-size="4.5" fill="#f6eeee" text-anchor="middle" font-weight="normal" font-family='"Liberation Sans", sans-serif'>H09</text>
<text x="537.6" y="147.31" font-size="4.5" fill="#f6eeee" text-anchor="middle" font-weight="normal" font-family='"Liberation Sans", sans-serif'>H11</text>
<text x="537.6" y="154.71" font-size="4.5" fill="#f6eeee" text-anchor="middle" font-weight="normal" font-family='"Liberation Sans", sans-serif'>H13</text>
<text x="537.6" y="166.18" font-size="4.5" fill="#f6eeee" text-anchor="middle" font-weight="normal" font-family='"Liberation Sans", sans-serif'>H15</text>
<text x="537.6" y="173.58" font-size="4.5" fill="#f6eeee" text-anchor="middle" font-weight="normal" font-family='"Liberation Sans", sans-serif'>H17</text>
<text x="537.6" y="185.05" font-size="4.5" fill="#f6eeee" text-anchor="middle" font-weight="normal" font-family='"Liberation Sans", sans-serif'>H19</text>
<text x="537.6" y="192.45" font-size="4.5" fill="#f6eeee" text-anchor="middle" font-weight="normal" font-family='"Liberation Sans", sans-serif'>H21</text>
<text x="537.6" y="203.92" font-size="4.5" fill="#f6eeee" text-anchor="middle" font-weight="normal" font-family='"Liberation Sans", sans-serif'>H23</text>
<text x="537.6" y="211.32" font-size="4.5" fill="#f6eeee" text-anchor="middle" font-weight="normal" font-family='"Liberation Sans", sans-serif'>H25</text>
<text x="537.6" y="222.79" font-size="4.5" fill="#f6eeee" text-anchor="middle" font-weight="normal" font-family='"Liberation Sans", sans-serif'>H27</text>
<text x="537.6" y="230.19" font-size="4.5" fill="#f6eeee" text-anchor="middle" font-weight="normal" font-family='"Liberation Sans", sans-serif'>H29</text>
<text x="537.6" y="241.66" font-size="4.5" fill="#f6eeee" text-anchor="middle" font-weight="normal" font-family='"Liberation Sans", sans-serif'>H31</text>
<text x="537.6" y="249.06" font-size="4.5" fill="#f6eeee" text-anchor="middle" font-weight="normal" font-family='"Liberation Sans", sans-serif'>H33</text>
<text x="537.6" y="260.53" font-size="4.5" fill="#f6eeee" text-anchor="middle" font-weight="normal" font-family='"Liberation Sans", sans-serif'>H35</text>
<text x="537.6" y="267.93" font-size="4.5" fill="#f6eeee" text-anchor="middle" font-weight="normal" font-family='"Liberation Sans", sans-serif'>H37</text>
<text x="537.6" y="279.4" font-size="4.5" fill="#f6eeee" text-anchor="middle" font-weight="normal" font-family='"Liberation Sans", sans-serif'>H39</text>
<text x="537.6" y="286.8" font-size="4.5" fill="#f6eeee" text-anchor="middle" font-weight="normal" font-family='"Liberation Sans", sans-serif'>H41</text>
<text x="537.6" y="288.4" font-size="4.5" fill="#f6eeee" text-anchor="middle" font-weight="normal" font-family='"Liberation Sans", sans-serif'>H43</text>
<line x1="520.6" y1="92.5" x2="520.6" y2="290.2" stroke="#3f3a2c" stroke-width="0.8"/>
<line x1="525" y1="92.5" x2="525" y2="290.2" stroke="#3f3a2c" stroke-width="0.8"/>
<rect x="510.5" y="290.2" width="10.1" height="159.2" fill="#d5c85b"/>
<rect x="525" y="290.2" width="11" height="159.2" fill="#d5c85b"/>
<text x="515.5" y="370" font-size="4.6" fill="#2a2a2a" text-anchor="middle" font-family='"Liberation Sans", sans-serif' transform="rotate(90 515.5 370)">H44</text>
<text x="530.5" y="370" font-size="4.6" fill="#2a2a2a" text-anchor="middle" font-family='"Liberation Sans", sans-serif' transform="rotate(90 530.5 370)">H43</text>
<rect x="495.6" y="110.07" width="54.6" height="2.6" fill="#2c2620"/>
<rect x="496.1" y="110.82" width="53.6" height="1.1" fill="#d9a764"/>
<rect x="495.6" y="128.94" width="54.6" height="2.6" fill="#2c2620"/>
<rect x="496.1" y="129.69" width="53.6" height="1.1" fill="#d9a764"/>
<rect x="495.6" y="147.81" width="54.6" height="2.6" fill="#2c2620"/>
<rect x="496.1" y="148.56" width="53.6" height="1.1" fill="#d9a764"/>
<rect x="495.6" y="166.68" width="54.6" height="2.6" fill="#2c2620"/>
<rect x="496.1" y="167.43" width="53.6" height="1.1" fill="#d9a764"/>
<rect x="495.6" y="185.55" width="54.6" height="2.6" fill="#2c2620"/>
<rect x="496.1" y="186.3" width="53.6" height="1.1" fill="#d9a764"/>
<rect x="495.6" y="204.42" width="54.6" height="2.6" fill="#2c2620"/>
<rect x="496.1" y="205.17" width="53.6" height="1.1" fill="#d9a764"/>
<rect x="495.6" y="223.29" width="54.6" height="2.6" fill="#2c2620"/>
<rect x="496.1" y="224.04" width="53.6" height="1.1" fill="#d9a764"/>
<rect x="495.6" y="242.16" width="54.6" height="2.6" fill="#2c2620"/>
<rect x="496.1" y="242.91" width="53.6" height="1.1" fill="#d9a764"/>
<rect x="495.6" y="261.03" width="54.6" height="2.6" fill="#2c2620"/>
<rect x="496.1" y="261.78" width="53.6" height="1.1" fill="#d9a764"/>
<rect x="495.6" y="279.9" width="54.6" height="2.6" fill="#2c2620"/>
<rect x="496.1" y="280.65" width="53.6" height="1.1" fill="#d9a764"/>
<rect x="512" y="262.5" width="8" height="8.5" fill="#e6e6e6"/>
<rect x="512" y="262.5" width="8" height="0.95" fill="#111"/>
<rect x="512" y="266.27" width="8" height="0.95" fill="#111"/>
<rect x="512" y="270.05" width="8" height="0.95" fill="#111"/>
<g transform="translate(522.8 0) scale(0.76 1)">
<text x="0" y="468.1" font-size="18.5" fill="#111" text-anchor="middle" font-weight="bold" font-family='"Liberation Sans", sans-serif' stroke="#111" stroke-width="0.7">H</text>
</g>
<rect x="603.4" y="92.5" width="10.8" height="183.2" fill="#d5c85b"/>
<rect x="603.4" y="297.5" width="10.8" height="164.3" fill="#d5c85b"/>
<text x="609" y="185" font-size="4.6" fill="#2a2a2a" text-anchor="middle" font-family='"Liberation Sans", sans-serif' transform="rotate(90 609 185)">I02</text>
<text x="609" y="385" font-size="4.6" fill="#2a2a2a" text-anchor="middle" font-family='"Liberation Sans", sans-serif' transform="rotate(90 609 385)">I04</text>
<rect x="606" y="276.4" width="8.2" height="21.1" fill="#e4e4e4"/>
<rect x="606" y="277.62" width="8.2" height="1.35" fill="#111"/>
<rect x="606" y="283.52" width="8.2" height="1.35" fill="#111"/>
<rect x="606" y="289.32" width="8.2" height="1.35" fill="#111"/>
<rect x="606" y="294.93" width="8.2" height="1.35" fill="#111"/>
<rect x="619" y="92.5" width="27" height="245.9" fill="#17a44b"/>
<rect x="619" y="338.4" width="27" height="121.3" fill="#1b519c"/>
<rect x="619" y="92.5" width="27" height="22.1" fill="none"/>
<rect x="619" y="114.6" width="27" height="22.4" fill="none"/>
<rect x="619" y="137" width="27" height="23" fill="none"/>
<rect x="619" y="160" width="27" height="22.9" fill="none"/>
<rect x="619" y="182.9" width="27" height="23.2" fill="none"/>
<rect x="619" y="206.1" width="27" height="22.9" fill="none"/>
<rect x="619" y="229" width="27" height="23.4" fill="none"/>
<rect x="619" y="252.4" width="27" height="23" fill="none"/>
<rect x="619" y="275.4" width="27" height="24.4" fill="none"/>
<rect x="619" y="299.8" width="27" height="25" fill="none"/>
<rect x="619" y="324.8" width="27" height="26.9" fill="none"/>
<rect x="619" y="351.7" width="27" height="26.8" fill="none"/>
<rect x="619" y="378.5" width="27" height="27.2" fill="none"/>
<rect x="619" y="405.7" width="27" height="27.1" fill="none"/>
<rect x="619" y="432.8" width="27" height="26.9" fill="none"/>
<text x="632.5" y="99" font-size="4.5" fill="#f6eeee" text-anchor="middle" font-weight="normal" font-family='"Liberation Sans", sans-serif'>I01</text>
<text x="632.5" y="111.9" font-size="4.5" fill="#f6eeee" text-anchor="middle" font-weight="normal" font-family='"Liberation Sans", sans-serif'>I03</text>
<text x="632.5" y="121.1" font-size="4.5" fill="#f6eeee" text-anchor="middle" font-weight="normal" font-family='"Liberation Sans", sans-serif'>I05</text>
<text x="632.5" y="134.3" font-size="4.5" fill="#f6eeee" text-anchor="middle" font-weight="normal" font-family='"Liberation Sans", sans-serif'>I07</text>
<text x="632.5" y="143.5" font-size="4.5" fill="#f6eeee" text-anchor="middle" font-weight="normal" font-family='"Liberation Sans", sans-serif'>I09</text>
<text x="632.5" y="157.3" font-size="4.5" fill="#f6eeee" text-anchor="middle" font-weight="normal" font-family='"Liberation Sans", sans-serif'>I11</text>
<text x="632.5" y="166.5" font-size="4.5" fill="#f6eeee" text-anchor="middle" font-weight="normal" font-family='"Liberation Sans", sans-serif'>I13</text>
<text x="632.5" y="180.2" font-size="4.5" fill="#f6eeee" text-anchor="middle" font-weight="normal" font-family='"Liberation Sans", sans-serif'>I15</text>
<text x="632.5" y="189.4" font-size="4.5" fill="#f6eeee" text-anchor="middle" font-weight="normal" font-family='"Liberation Sans", sans-serif'>I17</text>
<text x="632.5" y="203.4" font-size="4.5" fill="#f6eeee" text-anchor="middle" font-weight="normal" font-family='"Liberation Sans", sans-serif'>I19</text>
<text x="632.5" y="212.6" font-size="4.5" fill="#f6eeee" text-anchor="middle" font-weight="normal" font-family='"Liberation Sans", sans-serif'>I21</text>
<text x="632.5" y="226.3" font-size="4.5" fill="#f6eeee" text-anchor="middle" font-weight="normal" font-family='"Liberation Sans", sans-serif'>I23</text>
<text x="632.5" y="235.5" font-size="4.5" fill="#f6eeee" text-anchor="middle" font-weight="normal" font-family='"Liberation Sans", sans-serif'>I25</text>
<text x="632.5" y="249.7" font-size="4.5" fill="#f6eeee" text-anchor="middle" font-weight="normal" font-family='"Liberation Sans", sans-serif'>I27</text>
<text x="632.5" y="258.9" font-size="4.5" fill="#f6eeee" text-anchor="middle" font-weight="normal" font-family='"Liberation Sans", sans-serif'>I29</text>
<text x="632.5" y="272.7" font-size="4.5" fill="#f6eeee" text-anchor="middle" font-weight="normal" font-family='"Liberation Sans", sans-serif'>I31</text>
<text x="632.5" y="281.9" font-size="4.5" fill="#f6eeee" text-anchor="middle" font-weight="normal" font-family='"Liberation Sans", sans-serif'>I33</text>
<text x="632.5" y="297.1" font-size="4.5" fill="#f6eeee" text-anchor="middle" font-weight="normal" font-family='"Liberation Sans", sans-serif'>I35</text>
<text x="632.5" y="306.3" font-size="4.5" fill="#f6eeee" text-anchor="middle" font-weight="normal" font-family='"Liberation Sans", sans-serif'>I37</text>
<text x="632.5" y="322.1" font-size="4.5" fill="#f6eeee" text-anchor="middle" font-weight="normal" font-family='"Liberation Sans", sans-serif'>I39</text>
<text x="632.5" y="331.3" font-size="4.5" fill="#f6eeee" text-anchor="middle" font-weight="normal" font-family='"Liberation Sans", sans-serif'>I41</text>
<text x="632.5" y="349" font-size="4.5" fill="#f6eeee" text-anchor="middle" font-weight="normal" font-family='"Liberation Sans", sans-serif'>I43</text>
<text x="632.5" y="358.2" font-size="4.5" fill="#f6eeee" text-anchor="middle" font-weight="normal" font-family='"Liberation Sans", sans-serif'>I45</text>
<text x="632.5" y="375.8" font-size="4.5" fill="#f6eeee" text-anchor="middle" font-weight="normal" font-family='"Liberation Sans", sans-serif'>I47</text>
<text x="632.5" y="385" font-size="4.5" fill="#f6eeee" text-anchor="middle" font-weight="normal" font-family='"Liberation Sans", sans-serif'>I49</text>
<text x="632.5" y="403" font-size="4.5" fill="#f6eeee" text-anchor="middle" font-weight="normal" font-family='"Liberation Sans", sans-serif'>I51</text>
<text x="632.5" y="412.2" font-size="4.5" fill="#f6eeee" text-anchor="middle" font-weight="normal" font-family='"Liberation Sans", sans-serif'>I53</text>
<text x="632.5" y="430.1" font-size="4.5" fill="#f6eeee" text-anchor="middle" font-weight="normal" font-family='"Liberation Sans", sans-serif'>I55</text>
<text x="632.5" y="439.3" font-size="4.5" fill="#f6eeee" text-anchor="middle" font-weight="normal" font-family='"Liberation Sans", sans-serif'>I57</text>
<text x="632.5" y="457" font-size="4.5" fill="#f6eeee" text-anchor="middle" font-weight="normal" font-family='"Liberation Sans", sans-serif'>I59</text>
<rect x="614.2" y="112.4" width="32.8" height="4.4" fill="#2c2620"/>
<rect x="614.7" y="113.3" width="31.8" height="2.6" fill="#d9a764"/>
<rect x="614.2" y="134.8" width="32.8" height="4.4" fill="#2c2620"/>
<rect x="614.7" y="135.7" width="31.8" height="2.6" fill="#d9a764"/>
<rect x="614.2" y="157.8" width="32.8" height="4.4" fill="#2c2620"/>
<rect x="614.7" y="158.7" width="31.8" height="2.6" fill="#d9a764"/>
<rect x="614.2" y="180.7" width="32.8" height="4.4" fill="#2c2620"/>
<rect x="614.7" y="181.6" width="31.8" height="2.6" fill="#d9a764"/>
<rect x="614.2" y="203.9" width="32.8" height="4.4" fill="#2c2620"/>
<rect x="614.7" y="204.8" width="31.8" height="2.6" fill="#d9a764"/>
<rect x="614.2" y="226.8" width="32.8" height="4.4" fill="#2c2620"/>
<rect x="614.7" y="227.7" width="31.8" height="2.6" fill="#d9a764"/>
<rect x="614.2" y="250.2" width="32.8" height="4.4" fill="#2c2620"/>
<rect x="614.7" y="251.1" width="31.8" height="2.6" fill="#d9a764"/>
<rect x="614.2" y="273.2" width="32.8" height="4.4" fill="#2c2620"/>
<rect x="614.7" y="274.1" width="31.8" height="2.6" fill="#d9a764"/>
<rect x="614.2" y="297.6" width="32.8" height="4.4" fill="#2c2620"/>
<rect x="614.7" y="298.5" width="31.8" height="2.6" fill="#d9a764"/>
<rect x="614.2" y="322.6" width="32.8" height="4.4" fill="#2c2620"/>
<rect x="614.7" y="323.5" width="31.8" height="2.6" fill="#d9a764"/>
<rect x="614.2" y="349.5" width="32.8" height="4.4" fill="#2c2620"/>
<rect x="614.7" y="350.4" width="31.8" height="2.6" fill="#d9a764"/>
<rect x="614.2" y="376.3" width="32.8" height="4.4" fill="#2c2620"/>
<rect x="614.7" y="377.2" width="31.8" height="2.6" fill="#d9a764"/>
<rect x="614.2" y="403.5" width="32.8" height="4.4" fill="#2c2620"/>
<rect x="614.7" y="404.4" width="31.8" height="2.6" fill="#d9a764"/>
<rect x="614.2" y="430.6" width="32.8" height="4.4" fill="#2c2620"/>
<rect x="614.7" y="431.5" width="31.8" height="2.6" fill="#d9a764"/>
<rect x="614.2" y="458.2" width="32.3" height="3.6" fill="#d9a764" stroke="#3f3a2c" stroke-width="0.6"/>
<rect x="614.6" y="461.8" width="31.8" height="7.2" fill="#1b519c"/>
<text x="630.5" y="467.4" font-size="4.5" fill="#fff" text-anchor="middle" font-weight="normal" font-family='"Liberation Sans", sans-serif'>I61</text>
<g transform="translate(624.8 0) scale(0.76 1)">
<text x="0" y="492.8" font-size="18.5" fill="#111" text-anchor="middle" font-weight="bold" font-family='"Liberation Sans", sans-serif' stroke="#111" stroke-width="0.7">I</text>
</g>
<rect x="681.7" y="92.5" width="28.3" height="20.4" fill="#17a44b"/>
<rect x="681.7" y="112.9" width="28.3" height="24" fill="#17a44b"/>
<rect x="681.7" y="136.9" width="28.3" height="22.1" fill="#17a44b"/>
<rect x="681.7" y="159" width="28.3" height="21.7" fill="#17a44b"/>
<rect x="681.7" y="180.7" width="28.3" height="22.9" fill="#17a44b"/>
<rect x="681.7" y="203.6" width="28.3" height="23.5" fill="#17a44b"/>
<rect x="681.7" y="227.1" width="28.3" height="23.2" fill="#17a44b"/>
<rect x="681.7" y="250.3" width="28.3" height="22.1" fill="#17a44b"/>
<rect x="681.7" y="272.4" width="28.3" height="23.4" fill="#17a44b"/>
<rect x="681.7" y="295.8" width="28.3" height="10" fill="#17a44b"/>
<text x="695.85" y="98.1" font-size="4.5" fill="#f6eeee" text-anchor="middle" font-weight="normal" font-family='"Liberation Sans", sans-serif'>J02</text>
<text x="695.85" y="111.1" font-size="4.5" fill="#f6eeee" text-anchor="middle" font-weight="normal" font-family='"Liberation Sans", sans-serif'>J04</text>
<text x="695.85" y="118.5" font-size="4.5" fill="#f6eeee" text-anchor="middle" font-weight="normal" font-family='"Liberation Sans", sans-serif'>J06</text>
<text x="695.85" y="135.1" font-size="4.5" fill="#f6eeee" text-anchor="middle" font-weight="normal" font-family='"Liberation Sans", sans-serif'>J08</text>
<text x="695.85" y="142.5" font-size="4.5" fill="#f6eeee" text-anchor="middle" font-weight="normal" font-family='"Liberation Sans", sans-serif'>J10</text>
<text x="695.85" y="157.2" font-size="4.5" fill="#f6eeee" text-anchor="middle" font-weight="normal" font-family='"Liberation Sans", sans-serif'>J12</text>
<text x="695.85" y="164.6" font-size="4.5" fill="#f6eeee" text-anchor="middle" font-weight="normal" font-family='"Liberation Sans", sans-serif'>J14</text>
<text x="695.85" y="178.9" font-size="4.5" fill="#f6eeee" text-anchor="middle" font-weight="normal" font-family='"Liberation Sans", sans-serif'>J16</text>
<text x="695.85" y="186.3" font-size="4.5" fill="#f6eeee" text-anchor="middle" font-weight="normal" font-family='"Liberation Sans", sans-serif'>J18</text>
<text x="695.85" y="201.8" font-size="4.5" fill="#f6eeee" text-anchor="middle" font-weight="normal" font-family='"Liberation Sans", sans-serif'>J20</text>
<text x="695.85" y="209.2" font-size="4.5" fill="#f6eeee" text-anchor="middle" font-weight="normal" font-family='"Liberation Sans", sans-serif'>J22</text>
<text x="695.85" y="225.3" font-size="4.5" fill="#f6eeee" text-anchor="middle" font-weight="normal" font-family='"Liberation Sans", sans-serif'>J24</text>
<text x="695.85" y="232.7" font-size="4.5" fill="#f6eeee" text-anchor="middle" font-weight="normal" font-family='"Liberation Sans", sans-serif'>J26</text>
<text x="695.85" y="248.5" font-size="4.5" fill="#f6eeee" text-anchor="middle" font-weight="normal" font-family='"Liberation Sans", sans-serif'>J28</text>
<text x="695.85" y="255.9" font-size="4.5" fill="#f6eeee" text-anchor="middle" font-weight="normal" font-family='"Liberation Sans", sans-serif'>J30</text>
<text x="695.85" y="270.6" font-size="4.5" fill="#f6eeee" text-anchor="middle" font-weight="normal" font-family='"Liberation Sans", sans-serif'>J32</text>
<text x="695.85" y="278" font-size="4.5" fill="#f6eeee" text-anchor="middle" font-weight="normal" font-family='"Liberation Sans", sans-serif'>J34</text>
<text x="695.85" y="294" font-size="4.5" fill="#f6eeee" text-anchor="middle" font-weight="normal" font-family='"Liberation Sans", sans-serif'>J36</text>
<text x="695.85" y="301.4" font-size="4.5" fill="#f6eeee" text-anchor="middle" font-weight="normal" font-family='"Liberation Sans", sans-serif'>J38</text>
<text x="695.85" y="304" font-size="4.5" fill="#f6eeee" text-anchor="middle" font-weight="normal" font-family='"Liberation Sans", sans-serif'>J40</text>
<rect x="714.5" y="92.5" width="28.6" height="214" fill="#17a44b"/>
<rect x="714.5" y="306.5" width="28.6" height="152" fill="#1b519c"/>
<rect x="714.5" y="92.5" width="28.6" height="20.4" fill="none"/>
<rect x="714.5" y="112.9" width="28.6" height="24" fill="none"/>
<rect x="714.5" y="136.9" width="28.6" height="22.1" fill="none"/>
<rect x="714.5" y="159" width="28.6" height="21.7" fill="none"/>
<rect x="714.5" y="180.7" width="28.6" height="22.9" fill="none"/>
<rect x="714.5" y="203.6" width="28.6" height="23.5" fill="none"/>
<rect x="714.5" y="227.1" width="28.6" height="23.2" fill="none"/>
<rect x="714.5" y="250.3" width="28.6" height="22.1" fill="none"/>
<rect x="714.5" y="272.4" width="28.6" height="23.4" fill="none"/>
<rect x="714.5" y="295.8" width="28.6" height="27.6" fill="none"/>
<rect x="714.5" y="323.4" width="28.6" height="27.6" fill="none"/>
<rect x="714.5" y="351" width="28.6" height="27" fill="none"/>
<rect x="714.5" y="378" width="28.6" height="27.6" fill="none"/>
<rect x="714.5" y="405.6" width="28.6" height="27" fill="none"/>
<rect x="714.5" y="432.6" width="28.6" height="25.9" fill="none"/>
<text x="728.8" y="98.1" font-size="4.5" fill="#f6eeee" text-anchor="middle" font-weight="normal" font-family='"Liberation Sans", sans-serif'>J01</text>
<text x="728.8" y="111.1" font-size="4.5" fill="#f6eeee" text-anchor="middle" font-weight="normal" font-family='"Liberation Sans", sans-serif'>J03</text>
<text x="728.8" y="118.5" font-size="4.5" fill="#f6eeee" text-anchor="middle" font-weight="normal" font-family='"Liberation Sans", sans-serif'>J05</text>
<text x="728.8" y="135.1" font-size="4.5" fill="#f6eeee" text-anchor="middle" font-weight="normal" font-family='"Liberation Sans", sans-serif'>J07</text>
<text x="728.8" y="142.5" font-size="4.5" fill="#f6eeee" text-anchor="middle" font-weight="normal" font-family='"Liberation Sans", sans-serif'>J09</text>
<text x="728.8" y="157.2" font-size="4.5" fill="#f6eeee" text-anchor="middle" font-weight="normal" font-family='"Liberation Sans", sans-serif'>J11</text>
<text x="728.8" y="164.6" font-size="4.5" fill="#f6eeee" text-anchor="middle" font-weight="normal" font-family='"Liberation Sans", sans-serif'>J13</text>
<text x="728.8" y="178.9" font-size="4.5" fill="#f6eeee" text-anchor="middle" font-weight="normal" font-family='"Liberation Sans", sans-serif'>J15</text>
<text x="728.8" y="186.3" font-size="4.5" fill="#f6eeee" text-anchor="middle" font-weight="normal" font-family='"Liberation Sans", sans-serif'>J17</text>
<text x="728.8" y="201.8" font-size="4.5" fill="#f6eeee" text-anchor="middle" font-weight="normal" font-family='"Liberation Sans", sans-serif'>J19</text>
<text x="728.8" y="209.2" font-size="4.5" fill="#f6eeee" text-anchor="middle" font-weight="normal" font-family='"Liberation Sans", sans-serif'>J21</text>
<text x="728.8" y="225.3" font-size="4.5" fill="#f6eeee" text-anchor="middle" font-weight="normal" font-family='"Liberation Sans", sans-serif'>J23</text>
<text x="728.8" y="232.7" font-size="4.5" fill="#f6eeee" text-anchor="middle" font-weight="normal" font-family='"Liberation Sans", sans-serif'>J25</text>
<text x="728.8" y="248.5" font-size="4.5" fill="#f6eeee" text-anchor="middle" font-weight="normal" font-family='"Liberation Sans", sans-serif'>J27</text>
<text x="728.8" y="255.9" font-size="4.5" fill="#f6eeee" text-anchor="middle" font-weight="normal" font-family='"Liberation Sans", sans-serif'>J29</text>
<text x="728.8" y="270.6" font-size="4.5" fill="#f6eeee" text-anchor="middle" font-weight="normal" font-family='"Liberation Sans", sans-serif'>J31</text>
<text x="728.8" y="278" font-size="4.5" fill="#f6eeee" text-anchor="middle" font-weight="normal" font-family='"Liberation Sans", sans-serif'>J33</text>
<text x="728.8" y="294" font-size="4.5" fill="#f6eeee" text-anchor="middle" font-weight="normal" font-family='"Liberation Sans", sans-serif'>J35</text>
<text x="728.8" y="301.4" font-size="4.5" fill="#f6eeee" text-anchor="middle" font-weight="normal" font-family='"Liberation Sans", sans-serif'>J37</text>
<text x="728.8" y="321.6" font-size="4.5" fill="#f6eeee" text-anchor="middle" font-weight="normal" font-family='"Liberation Sans", sans-serif'>J39</text>
<text x="728.8" y="329" font-size="4.5" fill="#f6eeee" text-anchor="middle" font-weight="normal" font-family='"Liberation Sans", sans-serif'>J41</text>
<text x="728.8" y="349.2" font-size="4.5" fill="#f6eeee" text-anchor="middle" font-weight="normal" font-family='"Liberation Sans", sans-serif'>J43</text>
<text x="728.8" y="356.6" font-size="4.5" fill="#f6eeee" text-anchor="middle" font-weight="normal" font-family='"Liberation Sans", sans-serif'>J45</text>
<text x="728.8" y="376.2" font-size="4.5" fill="#f6eeee" text-anchor="middle" font-weight="normal" font-family='"Liberation Sans", sans-serif'>J47</text>
<text x="728.8" y="383.6" font-size="4.5" fill="#f6eeee" text-anchor="middle" font-weight="normal" font-family='"Liberation Sans", sans-serif'>J49</text>
<text x="728.8" y="403.8" font-size="4.5" fill="#f6eeee" text-anchor="middle" font-weight="normal" font-family='"Liberation Sans", sans-serif'>J51</text>
<text x="728.8" y="411.2" font-size="4.5" fill="#f6eeee" text-anchor="middle" font-weight="normal" font-family='"Liberation Sans", sans-serif'>J53</text>
<text x="728.8" y="430.8" font-size="4.5" fill="#f6eeee" text-anchor="middle" font-weight="normal" font-family='"Liberation Sans", sans-serif'>J55</text>
<text x="728.8" y="438.2" font-size="4.5" fill="#f6eeee" text-anchor="middle" font-weight="normal" font-family='"Liberation Sans", sans-serif'>J57</text>
<text x="728.8" y="456.7" font-size="4.5" fill="#f6eeee" text-anchor="middle" font-weight="normal" font-family='"Liberation Sans", sans-serif'>J59</text>
<rect x="699.2" y="310.4" width="10.4" height="150.4" fill="#d5c85b"/>
<text x="704.5" y="385" font-size="4.6" fill="#2a2a2a" text-anchor="middle" font-family='"Liberation Sans", sans-serif' transform="rotate(90 704.5 385)">J40</text>
<line x1="710" y1="92.5" x2="710" y2="305.8" stroke="#3f3a2c" stroke-width="0.8"/>
<rect x="681.7" y="111.45" width="61.4" height="2.9" fill="#2c2620"/>
<rect x="682.2" y="112.25" width="60.4" height="1.3" fill="#d9a764"/>
<rect x="681.7" y="135.45" width="61.4" height="2.9" fill="#2c2620"/>
<rect x="682.2" y="136.25" width="60.4" height="1.3" fill="#d9a764"/>
<rect x="681.7" y="157.55" width="61.4" height="2.9" fill="#2c2620"/>
<rect x="682.2" y="158.35" width="60.4" height="1.3" fill="#d9a764"/>
<rect x="681.7" y="179.25" width="61.4" height="2.9" fill="#2c2620"/>
<rect x="682.2" y="180.05" width="60.4" height="1.3" fill="#d9a764"/>
<rect x="681.7" y="202.15" width="61.4" height="2.9" fill="#2c2620"/>
<rect x="682.2" y="202.95" width="60.4" height="1.3" fill="#d9a764"/>
<rect x="681.7" y="225.65" width="61.4" height="2.9" fill="#2c2620"/>
<rect x="682.2" y="226.45" width="60.4" height="1.3" fill="#d9a764"/>
<rect x="681.7" y="248.85" width="61.4" height="2.9" fill="#2c2620"/>
<rect x="682.2" y="249.65" width="60.4" height="1.3" fill="#d9a764"/>
<rect x="681.7" y="270.95" width="61.4" height="2.9" fill="#2c2620"/>
<rect x="682.2" y="271.75" width="60.4" height="1.3" fill="#d9a764"/>
<rect x="681.7" y="294.35" width="61.4" height="2.9" fill="#2c2620"/>
<rect x="682.2" y="295.15" width="60.4" height="1.3" fill="#d9a764"/>
<rect x="714.5" y="321.95" width="28.6" height="2.9" fill="#2c2620"/>
<rect x="715" y="322.75" width="27.6" height="1.3" fill="#d9a764"/>
<rect x="714.5" y="349.55" width="28.6" height="2.9" fill="#2c2620"/>
<rect x="715" y="350.35" width="27.6" height="1.3" fill="#d9a764"/>
<rect x="714.5" y="376.55" width="28.6" height="2.9" fill="#2c2620"/>
<rect x="715" y="377.35" width="27.6" height="1.3" fill="#d9a764"/>
<rect x="714.5" y="404.15" width="28.6" height="2.9" fill="#2c2620"/>
<rect x="715" y="404.95" width="27.6" height="1.3" fill="#d9a764"/>
<rect x="714.5" y="431.15" width="28.6" height="2.9" fill="#2c2620"/>
<rect x="715" y="431.95" width="27.6" height="1.3" fill="#d9a764"/>
<rect x="709.6" y="456.8" width="33.5" height="3.4" fill="#d9a764" stroke="#3f3a2c" stroke-width="0.6"/>
<rect x="709.6" y="460.2" width="33.5" height="7.1" fill="#1b519c"/>
<text x="726.5" y="465.8" font-size="4.5" fill="#fff" text-anchor="middle" font-weight="normal" font-family='"Liberation Sans", sans-serif'>J61</text>
<rect x="701" y="273.2" width="8.3" height="8.3" fill="#e6e6e6"/>
<rect x="701" y="273.2" width="8.3" height="0.95" fill="#111"/>
<rect x="701" y="276.88" width="8.3" height="0.95" fill="#111"/>
<rect x="701" y="280.55" width="8.3" height="0.95" fill="#111"/>
<g transform="translate(712.2 0) scale(0.76 1)">
<text x="0" y="488.8" font-size="18.5" fill="#111" text-anchor="middle" font-weight="bold" font-family='"Liberation Sans", sans-serif' stroke="#111" stroke-width="0.7">J</text>
</g>
<rect x="810.6" y="92.5" width="180.9" height="9.7" fill="#d5c85b"/>
<text x="901" y="99.4" font-size="4.4" fill="#333" text-anchor="middle" font-weight="normal" font-family='"Liberation Sans", sans-serif'>K01</text>
<rect x="793" y="135" width="11.1" height="137.2" fill="#d5c85b"/>
<text x="798.5" y="203" font-size="4.6" fill="#2a2a2a" text-anchor="middle" font-family='"Liberation Sans", sans-serif' transform="rotate(90 798.5 203)">K02</text>
<rect x="798" y="274.8" width="6.1" height="24" fill="#e4e4e4"/>
<rect x="798" y="277.62" width="6.1" height="1.35" fill="#111"/>
<rect x="798" y="281.72" width="6.1" height="1.35" fill="#111"/>
<rect x="798" y="286.02" width="6.1" height="1.35" fill="#111"/>
<rect x="798" y="290.52" width="6.1" height="1.35" fill="#111"/>
<rect x="798" y="294.52" width="6.1" height="1.35" fill="#111"/>
<rect x="793" y="300.5" width="11.1" height="37.8" fill="#d5c85b"/>
<text x="798.5" y="320" font-size="4.6" fill="#2a2a2a" text-anchor="middle" font-family='"Liberation Sans", sans-serif' transform="rotate(90 798.5 320)">K04</text>
<rect x="808.8" y="121" width="91.2" height="21.7" fill="#fee815"/>
<rect x="808.8" y="130.7" width="91.2" height="2.4" fill="#2c2620"/>
<rect x="809.3" y="131.35" width="90.2" height="1.1" fill="#d9a764"/>
<text x="854.4" y="130.3" font-size="4.4" fill="#333" text-anchor="middle" font-weight="normal" font-family='"Liberation Sans", sans-serif'>K03</text>
<text x="854.4" y="137.1" font-size="4.4" fill="#333" text-anchor="middle" font-weight="normal" font-family='"Liberation Sans", sans-serif'>K05</text>
<rect x="808.8" y="172.2" width="91.2" height="21.5" fill="#fee815"/>
<rect x="808.8" y="181.6" width="91.2" height="2.4" fill="#2c2620"/>
<rect x="809.3" y="182.25" width="90.2" height="1.1" fill="#d9a764"/>
<text x="854.4" y="181.2" font-size="4.4" fill="#333" text-anchor="middle" font-weight="normal" font-family='"Liberation Sans", sans-serif'>K07</text>
<text x="854.4" y="188" font-size="4.4" fill="#333" text-anchor="middle" font-weight="normal" font-family='"Liberation Sans", sans-serif'>K09</text>
<rect x="808.8" y="223" width="91.2" height="21.7" fill="#fee815"/>
<rect x="808.8" y="233.2" width="91.2" height="2.4" fill="#2c2620"/>
<rect x="809.3" y="233.85" width="90.2" height="1.1" fill="#d9a764"/>
<text x="854.4" y="232.8" font-size="4.4" fill="#333" text-anchor="middle" font-weight="normal" font-family='"Liberation Sans", sans-serif'>K11</text>
<text x="854.4" y="239.6" font-size="4.4" fill="#333" text-anchor="middle" font-weight="normal" font-family='"Liberation Sans", sans-serif'>K13</text>
<rect x="808.8" y="275.6" width="91.2" height="21.6" fill="#fee815"/>
<rect x="808.8" y="285.1" width="91.2" height="2.4" fill="#2c2620"/>
<rect x="809.3" y="285.75" width="90.2" height="1.1" fill="#d9a764"/>
<text x="854.4" y="284.7" font-size="4.4" fill="#333" text-anchor="middle" font-weight="normal" font-family='"Liberation Sans", sans-serif'>K15</text>
<text x="854.4" y="291.5" font-size="4.4" fill="#333" text-anchor="middle" font-weight="normal" font-family='"Liberation Sans", sans-serif'>K17</text>
<rect x="808.8" y="325.4" width="91.2" height="8.6" fill="#fee815"/>
<text x="854.4" y="332.6" font-size="4.4" fill="#333" text-anchor="middle" font-weight="normal" font-family='"Liberation Sans", sans-serif'>K19</text>
<rect x="804" y="338.3" width="96.7" height="8.5" fill="#fee815"/>
<text x="854.4" y="344.8" font-size="4.4" fill="#333" text-anchor="middle" font-weight="normal" font-family='"Liberation Sans", sans-serif'>K21</text>
<rect x="804.1" y="333.8" width="95.9" height="4.5" fill="#d9a764" stroke="#3f3a2c" stroke-width="0.6"/>
<g transform="translate(807.8 0) scale(0.76 1)">
<text x="0" y="371.2" font-size="18.5" fill="#111" text-anchor="middle" font-weight="bold" font-family='"Liberation Sans", sans-serif' stroke="#111" stroke-width="0.7">K</text>
</g>
<rect x="45.5" y="92.5" width="3.1" height="196" fill="#d9a764"/>
<rect x="150.3" y="92.5" width="3.2" height="191" fill="#d9a764"/>
<rect x="210.5" y="92.5" width="3.5" height="191" fill="#d9a764"/>
<rect x="279.4" y="92.5" width="4.4" height="396.5" fill="#d9a764"/>
<rect x="352.6" y="92.5" width="4.4" height="390.5" fill="#d9a764"/>
<rect x="432.8" y="92.5" width="6.7" height="371.5" fill="#d9a764"/>
<rect x="520.6" y="92.5" width="4.4" height="356.9" fill="#d9a764"/>
<rect x="614.2" y="92.5" width="4.8" height="368.5" fill="#d9a764"/>
<rect x="710" y="92.5" width="4.5" height="367.5" fill="#d9a764"/>
<rect x="804.1" y="92.5" width="5.3" height="243.5" fill="#d9a764"/>
<line x1="432.8" y1="92.5" x2="432.8" y2="464" stroke="#3f3a2c" stroke-width="0.8"/>
<line x1="439.5" y1="135" x2="439.5" y2="464" stroke="#3f3a2c" stroke-width="0.8"/>
<line x1="432.8" y1="464" x2="439.5" y2="464" stroke="#3f3a2c" stroke-width="0.8"/>
<line x1="520.6" y1="290.2" x2="520.6" y2="449.4" stroke="#3f3a2c" stroke-width="0.8"/>
<line x1="525" y1="290.2" x2="525" y2="449.4" stroke="#3f3a2c" stroke-width="0.8"/>
<line x1="520.6" y1="449.4" x2="525" y2="449.4" stroke="#3f3a2c" stroke-width="0.8"/>
<line x1="352.6" y1="299.5" x2="352.6" y2="481" stroke="#3f3a2c" stroke-width="0.8"/>
<line x1="614.2" y1="92.5" x2="614.2" y2="461.5" stroke="#3f3a2c" stroke-width="0.8"/>
<line x1="710" y1="305.8" x2="710" y2="457" stroke="#3f3a2c" stroke-width="0.8"/>
<line x1="804.1" y1="92.5" x2="804.1" y2="334" stroke="#3f3a2c" stroke-width="0.8"/>
<line x1="48.6" y1="287.5" x2="48.6" y2="92.5" stroke="#3f3a2c" stroke-width="0.6"/>
<rect x="33" y="86.3" width="958.5" height="6.1" fill="#d9a764" stroke="#3f3a2c" stroke-width="0.7"/>
<rect x="373" y="85" width="7" height="3" fill="#d9a764"/>
<rect x="827.2" y="85" width="6.6" height="3" fill="#d9a764"/>
<defs>
<symbol id="store" viewBox="0 0 20 20"><rect width="20" height="20" rx="2" fill="#1e437f"/>
<path d="M4.2 3.4 H15.8 L17.4 9 Q16.2 10.4 14.9 9 Q13.6 10.4 12.3 9 Q11 10.4 10 9 Q9 10.4 7.7 9 Q6.4 10.4 5.1 9 Q3.8 10.4 2.6 9 Z" fill="#fff"/>
<path d="M7 3.4 L6.2 9 M9.1 3.4 L8.9 9 M10.9 3.4 L11.1 9 M13 3.4 L13.8 9" stroke="#1e437f" stroke-width="0.8"/>
<path d="M4.8 10.6 H15.2 V17.4 H12.2 V13 H7.8 V17.4 H4.8 Z" fill="#fff"/></symbol>
<symbol id="wash" viewBox="0 0 20 20"><rect width="20" height="20" rx="1.2" fill="#1e437f"/>
<circle cx="6" cy="3.9" r="1.6" fill="#fff"/><path d="M4.4 6 H7.6 Q8.6 6 8.8 7.2 L9.2 12.4 H2.8 L3.2 7.2 Q3.4 6 4.4 6 Z" fill="#fff"/><rect x="4.6" y="12" width="1.1" height="5.4" fill="#fff"/><rect x="6.3" y="12" width="1.1" height="5.4" fill="#fff"/>
<line x1="10" y1="2.5" x2="10" y2="17.5" stroke="#8aa0c0" stroke-width="0.5"/>
<circle cx="14" cy="3.9" r="1.6" fill="#fff"/><path d="M12.3 6 H15.7 Q16.8 6 16.8 7.2 V12.2 H11.2 V7.2 Q11.2 6 12.3 6 Z" fill="#fff"/><rect x="12.2" y="12" width="1.5" height="5.4" fill="#fff"/><rect x="14.3" y="12" width="1.5" height="5.4" fill="#fff"/></symbol>
<symbol id="cart" viewBox="0 0 20 20"><rect width="20" height="20" rx="1.2" fill="#1e437f"/>
<path d="M3.4 8.6 H13 V14 H3.4 Z M13 14 L15.6 4.4 H17.2 M2.6 14.2 H13.6" fill="none" stroke="#fff" stroke-width="1.2"/>
<path d="M5.8 8.6 V14 M8.2 8.6 V14 M10.6 8.6 V14" stroke="#fff" stroke-width="0.8"/>
<circle cx="5.2" cy="16" r="1.2" fill="#fff"/><circle cx="11" cy="16" r="1.2" fill="#fff"/></symbol>
<symbol id="tools" viewBox="0 0 20 20"><rect width="20" height="20" rx="1.5" fill="#1e437f"/>
<path d="M4.5 15.5 L15.5 4.5" stroke="#fff" stroke-width="1.6" stroke-linecap="round"/>
<path d="M5 5 L15 15.5" stroke="#fff" stroke-width="1.6" stroke-linecap="round"/>
<circle cx="4.6" cy="4.6" r="2.2" fill="none" stroke="#fff" stroke-width="1.2"/>
<path d="M14 16 L16.5 13.5" stroke="#fff" stroke-width="2.4"/></symbol>
<symbol id="picnic" viewBox="0 0 20 20"><rect x="3.5" y="5.5" width="13" height="1.8" fill="#333"/><rect x="1" y="9.6" width="18" height="1.4" fill="#333"/>
<path d="M6 7 L4 14.5 M14 7 L16 14.5 M6.5 7 L8 11 M13.5 7 L12 11" stroke="#333" stroke-width="1.3"/></symbol>
<symbol id="recyc" viewBox="0 0 20 20"><path d="M10 3.4 L18.2 17 H1.8 Z" fill="none" stroke="currentColor" stroke-width="3.3" stroke-linejoin="round" stroke-dasharray="5.3 2.7" stroke-dashoffset="-1.35" transform="translate(0 -0.6)"/></symbol>
<symbol id="bin" viewBox="0 0 20 20"><rect x="3" y="2.6" width="14" height="2.2" rx="0.8" fill="currentColor"/><rect x="8" y="1" width="4" height="2" fill="currentColor"/>
<path d="M4 5.6 H16 L15 19 H5 Z" fill="currentColor"/><path d="M7.5 7.4 L7.8 17.4 M10 7.4 V17.4 M12.5 7.4 L12.2 17.4" stroke="#fff" stroke-width="0.6" opacity="0.6"/></symbol>
<symbol id="anchor" viewBox="0 0 20 20"><circle cx="10" cy="10" r="9.2" fill="#fff" stroke="#d8262c" stroke-width="1.3"/>
<g stroke="#d8262c" stroke-width="1.3" fill="none"><circle cx="10" cy="4.2" r="1.3"/><path d="M10 5.5 V16.6 M6.8 7.6 H13.2 M4.2 11.2 Q5 16.4 10 16.6 Q15 16.4 15.8 11.2"/></g>
<path d="M3.2 12.4 L4.2 10 L5.6 12 Z M16.8 12.4 L15.8 10 L14.4 12 Z" fill="#d8262c"/></symbol>
<symbol id="shower" viewBox="0 0 20 20"><circle cx="10" cy="10" r="10" fill="#1e437f"/>
<path d="M4.6 11.6 Q5 6.8 10 6.4 Q15 6.8 15.4 11.6 Z" fill="#fff"/><rect x="9.3" y="3.2" width="1.4" height="3.4" fill="#fff"/>
<g fill="#fff"><circle cx="5.6" cy="13.6" r="0.6"/><circle cx="8.4" cy="13.6" r="0.6"/><circle cx="11.6" cy="13.6" r="0.6"/><circle cx="14.4" cy="13.6" r="0.6"/><circle cx="7" cy="15.8" r="0.6"/><circle cx="10" cy="15.8" r="0.6"/><circle cx="13" cy="15.8" r="0.6"/></g></symbol>
<symbol id="laundry" viewBox="0 0 20 20"><circle cx="10" cy="10" r="10" fill="#1e437f"/>
<rect x="5" y="4.6" width="10" height="11" fill="none" stroke="#fff" stroke-width="1"/><circle cx="10" cy="10.8" r="3" fill="none" stroke="#fff" stroke-width="1"/><path d="M5 6.8 H15" stroke="#fff" stroke-width="0.8"/></symbol>
<symbol id="fish" viewBox="0 0 20 20"><circle cx="10" cy="10" r="10" fill="#1e437f"/><circle cx="10" cy="10" r="8.2" fill="none" stroke="#fff" stroke-width="0.5" opacity="0.8"/>
<path d="M3.8 10 Q8 5.4 12.6 8.4 L16.2 6.2 L15.2 10 L16.2 13.8 L12.6 11.6 Q8 14.6 3.8 10 Z" fill="none" stroke="#fff" stroke-width="0.9"/><circle cx="6.4" cy="9.5" r="0.7" fill="#fff"/>
<path d="M8.8 7.8 Q9.8 10 8.8 12.2 M10.8 8.2 Q11.6 10 10.8 11.8" fill="none" stroke="#fff" stroke-width="0.6"/></symbol>
<symbol id="dump" viewBox="0 0 30 20"><path d="M2 6 Q2 2 6 2 H24 Q28 2 28 6 V6.5 H2 Z" fill="currentColor"/>
<rect x="1.5" y="7.5" width="27" height="10" rx="1.2" fill="currentColor"/><rect x="3" y="17" width="2.4" height="3" fill="currentColor"/><rect x="24.6" y="17" width="2.4" height="3" fill="currentColor"/>
<path d="M2 7 H28" stroke="#fff" stroke-width="0.5" opacity="0.5"/></symbol>
</defs>
<rect x="167.3" y="59.3" width="17.6" height="26.9" fill="#fff" stroke="#2c4747" stroke-width="0.9"/>
<use href="#store" x="169.7" y="65.95" width="12.8" height="12.8"/>
<rect x="256.4" y="59.3" width="17.9" height="26.9" fill="#fff" stroke="#2c4747" stroke-width="0.9"/>
<use href="#store" x="258.95" y="65.95" width="12.8" height="12.8"/>
<rect x="288.2" y="59.3" width="17.8" height="26.9" fill="#fff" stroke="#2c4747" stroke-width="0.9"/>
<use href="#store" x="290.7" y="65.95" width="12.8" height="12.8"/>
<rect x="440.6" y="59.3" width="17.9" height="26.9" fill="#fff" stroke="#2c4747" stroke-width="0.9"/>
<use href="#store" x="443.15" y="65.95" width="12.8" height="12.8"/>
<rect x="494.6" y="59.3" width="18.2" height="26.9" fill="#fff" stroke="#2c4747" stroke-width="0.9"/>
<use href="#store" x="497.3" y="65.95" width="12.8" height="12.8"/>
<rect x="514.1" y="59.3" width="17.6" height="26.9" fill="#fff" stroke="#2c4747" stroke-width="0.9"/>
<use href="#store" x="516.5" y="65.95" width="12.8" height="12.8"/>
<rect x="533.3" y="59.3" width="17.5" height="26.9" fill="#fff" stroke="#2c4747" stroke-width="0.9"/>
<use href="#store" x="535.65" y="65.95" width="12.8" height="12.8"/>
<rect x="603.4" y="59.3" width="17.2" height="26.9" fill="#fff" stroke="#2c4747" stroke-width="0.9"/>
<use href="#store" x="605.6" y="65.95" width="12.8" height="12.8"/>
<rect x="699.3" y="59.3" width="17.1" height="26.9" fill="#fff" stroke="#2c4747" stroke-width="0.9"/>
<use href="#store" x="701.45" y="65.95" width="12.8" height="12.8"/>
<rect x="747.6" y="59.3" width="17.4" height="26.9" fill="#fff" stroke="#2c4747" stroke-width="0.9"/>
<use href="#store" x="749.9" y="65.95" width="12.8" height="12.8"/>
<rect x="766.2" y="59.3" width="17.3" height="26.9" fill="#fff" stroke="#2c4747" stroke-width="0.9"/>
<use href="#store" x="768.45" y="65.95" width="12.8" height="12.8"/>
<rect x="785" y="59.3" width="17.6" height="26.9" fill="#fff" stroke="#2c4747" stroke-width="0.9"/>
<use href="#store" x="787.4" y="65.95" width="12.8" height="12.8"/>
<rect x="288.6" y="93" width="17.2" height="26.4" fill="#fff" stroke="#2c4747" stroke-width="0.9"/>
<use href="#store" x="290.8" y="99.4" width="12.8" height="12.8"/>
<rect x="680.7" y="59.3" width="17.6" height="26.9" fill="#fff" stroke="#2c4747" stroke-width="0.9"/>
<use href="#tools" x="683.1" y="65.95" width="12.8" height="12.8"/>
<rect x="729.5" y="59.3" width="17" height="26.9" fill="#fff" stroke="#2c4747" stroke-width="0.9"/>
<use href="#picnic" x="729" y="64" width="18" height="18"/>
<use href="#recyc" x="718.2" y="58" width="9" height="9" color="#1fa84a"/>
<use href="#bin" x="719" y="67.4" width="7.6" height="8.6" color="#3aa0dc"/>
<use href="#bin" x="719" y="77.2" width="7.6" height="8.8" color="#1fa84a"/>
<use href="#bin" x="232.4" y="78.2" width="7.6" height="8.2" color="#1fa84a"/>
<use href="#recyc" x="241.6" y="72.6" width="13.6" height="13.6" color="#1fa84a"/>
<use href="#bin" x="460.6" y="78.2" width="7.4" height="8.2" color="#1fa84a"/>
<use href="#recyc" x="469.2" y="72.6" width="13.6" height="13.6" color="#1fa84a"/>
<rect x="329.2" y="79.8" width="15.6" height="6.6" fill="#1e5aa6"/>
<rect x="348.7" y="79.8" width="15.9" height="6.6" fill="#1e5aa6"/>
<use href="#wash" x="340.7" y="66.6" width="12.7" height="12.4"/>
<use href="#cart" x="382.7" y="73.7" width="12.2" height="12.5"/>
<use href="#cart" x="838.2" y="73.4" width="12.5" height="12.8"/>
<rect x="790" y="95" width="13.6" height="40.2" fill="#1e437f"/>
<text x="796.8" y="98" font-size="5.2" fill="#fff" text-anchor="start" font-family='"Liberation Sans", sans-serif' transform="rotate(90 796.8 98)" textLength="34" lengthAdjust="spacingAndGlyphs" dy="1.8">MARINA OFFICE</text>
<use href="#anchor" x="800.3" y="91.3" width="12.4" height="12.4"/>
<use href="#wash" x="800.3" y="105.3" width="12.5" height="12.5"/>
<use href="#laundry" x="800" y="118.3" width="13" height="13"/>
<use href="#shower" x="800" y="132.4" width="13" height="13"/>
<rect x="357.3" y="201.4" width="22.7" height="17.1" fill="#1e437f"/>
<use href="#fish" x="362" y="203.4" width="13.6" height="13.6"/>
<use href="#bin" x="350.8" y="199.6" width="8.2" height="9.2" color="#1fa84a"/>
<use href="#bin" x="350.8" y="209.2" width="8.2" height="9.6" color="#3aa0dc"/>
<rect x="256.4" y="358.8" width="22.8" height="15.5" fill="#1e437f"/>
<use href="#fish" x="261" y="359.6" width="13.6" height="13.6"/>
<use href="#bin" x="277.4" y="356.2" width="8.2" height="9.8" color="#1fa84a"/>
<use href="#bin" x="277.4" y="366.2" width="8.2" height="9.8" color="#3aa0dc"/>
<rect x="197" y="167.6" width="13.5" height="12.4" fill="#1e437f"/>
<use href="#fish" x="197.6" y="167.4" width="12.4" height="12.4"/>
<use href="#bin" x="210" y="164.4" width="6.4" height="8.4" color="#1fa84a"/>
<use href="#bin" x="211.6" y="173" width="6.6" height="8.4" color="#3aa0dc"/>
<rect x="34.3" y="381.6" width="110.4" height="199.2" fill="#eaeae9" stroke="#4e5545" stroke-width="2.9" rx="10.5"/>
<rect x="45.2" y="390.9" width="20.6" height="20.6" fill="#1f77bd" stroke="#4a4a3a" stroke-width="0.8" rx="2.2"/>
<text x="74.5" y="408.7" font-size="17.6" fill="#5b5b5b" text-anchor="start" font-weight="normal" font-family='"Liberation Sans", sans-serif' textLength="52.3" lengthAdjust="spacingAndGlyphs">18' Slip</text>
<rect x="45.2" y="417.45" width="20.6" height="20.6" fill="#8c4a8d" stroke="#4a4a3a" stroke-width="0.8" rx="2.2"/>
<text x="74.5" y="435.25" font-size="17.6" fill="#5b5b5b" text-anchor="start" font-weight="normal" font-family='"Liberation Sans", sans-serif' textLength="52.3" lengthAdjust="spacingAndGlyphs">24' Slip</text>
<rect x="45.2" y="444" width="20.6" height="20.6" fill="#d5202a" stroke="#4a4a3a" stroke-width="0.8" rx="2.2"/>
<text x="74.5" y="461.8" font-size="17.6" fill="#5b5b5b" text-anchor="start" font-weight="normal" font-family='"Liberation Sans", sans-serif' textLength="52.3" lengthAdjust="spacingAndGlyphs">30' Slip</text>
<rect x="45.2" y="470.55" width="20.6" height="20.6" fill="#f08429" stroke="#4a4a3a" stroke-width="0.8" rx="2.2"/>
<text x="74.5" y="488.35" font-size="17.6" fill="#5b5b5b" text-anchor="start" font-weight="normal" font-family='"Liberation Sans", sans-serif' textLength="52.3" lengthAdjust="spacingAndGlyphs">36' Slip</text>
<rect x="45.2" y="497.1" width="20.6" height="20.6" fill="#17a44b" stroke="#4a4a3a" stroke-width="0.8" rx="2.2"/>
<text x="74.5" y="514.9" font-size="17.6" fill="#5b5b5b" text-anchor="start" font-weight="normal" font-family='"Liberation Sans", sans-serif' textLength="52.3" lengthAdjust="spacingAndGlyphs">40' Slip</text>
<rect x="45.2" y="523.65" width="20.6" height="20.6" fill="#1b519c" stroke="#4a4a3a" stroke-width="0.8" rx="2.2"/>
<text x="74.5" y="541.45" font-size="17.6" fill="#5b5b5b" text-anchor="start" font-weight="normal" font-family='"Liberation Sans", sans-serif' textLength="52.3" lengthAdjust="spacingAndGlyphs">50' Slip</text>
<rect x="45.2" y="550.2" width="20.6" height="20.6" fill="#fee815" stroke="#4a4a3a" stroke-width="0.8" rx="2.2"/>
<text x="70.9" y="568" font-size="17.6" fill="#5b5b5b" text-anchor="start" font-weight="normal" font-family='"Liberation Sans", sans-serif' textLength="59.5" lengthAdjust="spacingAndGlyphs">150' Slip</text>
<rect x="792.5" y="443.4" width="197.4" height="137.4" fill="#eaeae9" stroke="#4e5545" stroke-width="2.9" rx="10.5"/>
<use href="#anchor" x="800.4" y="452.9" width="19.2" height="19.2"/>
<use href="#wash" x="856.7" y="452.9" width="20" height="19.7"/>
<use href="#recyc" x="923.4" y="451.6" width="21.2" height="21.2" color="#1fa84a"/>
<use href="#shower" x="800.4" y="485.9" width="19.2" height="19.2"/>
<use href="#store" x="856.7" y="486" width="20" height="19.6"/>
<use href="#picnic" x="924" y="477" width="20" height="20"/>
<use href="#laundry" x="800.4" y="519.2" width="19.2" height="19.2"/>
<use href="#cart" x="856.7" y="519" width="20" height="19.6"/>
<use href="#bin" x="924.4" y="501" width="19" height="22" color="#3aa0dc"/>
<use href="#dump" x="917.6" y="530.8" width="20" height="14.6" color="#1fa84a"/>
<use href="#bin" x="938.4" y="530.6" width="12" height="15" color="#1fa84a"/>
<use href="#fish" x="800.4" y="551.4" width="19.2" height="19.2"/>
<use href="#tools" x="856.7" y="551.7" width="20" height="19.5"/>
<use href="#dump" x="923.4" y="554.6" width="21" height="13.4" color="#3aa0dc"/>
<text x="823" y="461.6" font-size="6.2" fill="#2a2a2a" text-anchor="start" font-weight="bold" font-family='"Liberation Sans", sans-serif' textLength="22.5" lengthAdjust="spacingAndGlyphs">MARINA</text>
<text x="823" y="467.4" font-size="6.2" fill="#2a2a2a" text-anchor="start" font-weight="bold" font-family='"Liberation Sans", sans-serif' textLength="18.5" lengthAdjust="spacingAndGlyphs">OFFICE</text>
<text x="880.8" y="464.8" font-size="6.2" fill="#2a2a2a" text-anchor="start" font-weight="bold" font-family='"Liberation Sans", sans-serif' textLength="36.4" lengthAdjust="spacingAndGlyphs">WASHROOMS</text>
<text x="946.8" y="458.5" font-size="6.2" fill="#2a2a2a" text-anchor="start" font-weight="bold" font-family='"Liberation Sans", sans-serif' textLength="35" lengthAdjust="spacingAndGlyphs">REFUNDABLE</text>
<text x="946.8" y="465" font-size="6.2" fill="#2a2a2a" text-anchor="start" font-weight="bold" font-family='"Liberation Sans", sans-serif' textLength="28" lengthAdjust="spacingAndGlyphs">BOTTLES &amp;</text>
<text x="946.8" y="471.3" font-size="6.2" fill="#2a2a2a" text-anchor="start" font-weight="bold" font-family='"Liberation Sans", sans-serif' textLength="12.5" lengthAdjust="spacingAndGlyphs">CANS</text>
<text x="823" y="498.4" font-size="6.2" fill="#2a2a2a" text-anchor="start" font-weight="bold" font-family='"Liberation Sans", sans-serif' textLength="27" lengthAdjust="spacingAndGlyphs">SHOWERS</text>
<text x="879.5" y="498.2" font-size="6.2" fill="#2a2a2a" text-anchor="start" font-weight="bold" font-family='"Liberation Sans", sans-serif' textLength="32.5" lengthAdjust="spacingAndGlyphs">BUSINESSES</text>
<text x="946.8" y="486.3" font-size="6.2" fill="#2a2a2a" text-anchor="start" font-weight="bold" font-family='"Liberation Sans", sans-serif' textLength="18" lengthAdjust="spacingAndGlyphs">PICNIC</text>
<text x="946.8" y="492.7" font-size="6.2" fill="#2a2a2a" text-anchor="start" font-weight="bold" font-family='"Liberation Sans", sans-serif' textLength="19" lengthAdjust="spacingAndGlyphs">TABLES</text>
<text x="823" y="531.8" font-size="6.2" fill="#2a2a2a" text-anchor="start" font-weight="bold" font-family='"Liberation Sans", sans-serif' textLength="25.5" lengthAdjust="spacingAndGlyphs">LAUNDRY</text>
<text x="879.3" y="527.6" font-size="6.2" fill="#2a2a2a" text-anchor="start" font-weight="bold" font-family='"Liberation Sans", sans-serif' textLength="14.5" lengthAdjust="spacingAndGlyphs">DOCK</text>
<text x="879.3" y="534" font-size="6.2" fill="#2a2a2a" text-anchor="start" font-weight="bold" font-family='"Liberation Sans", sans-serif' textLength="14.5" lengthAdjust="spacingAndGlyphs">CART</text>
<text x="946.8" y="511.6" font-size="6.2" fill="#2a2a2a" text-anchor="start" font-weight="bold" font-family='"Liberation Sans", sans-serif' textLength="32.5" lengthAdjust="spacingAndGlyphs">HOUSEHOLD</text>
<text x="946.8" y="518" font-size="6.2" fill="#2a2a2a" text-anchor="start" font-weight="bold" font-family='"Liberation Sans", sans-serif' textLength="35.6" lengthAdjust="spacingAndGlyphs">RECYCLABLES</text>
<text x="952.8" y="539.4" font-size="6.2" fill="#2a2a2a" text-anchor="start" font-weight="bold" font-family='"Liberation Sans", sans-serif' textLength="25.8" lengthAdjust="spacingAndGlyphs">GARBAGE</text>
<text x="823" y="561.4" font-size="6.2" fill="#2a2a2a" text-anchor="start" font-weight="bold" font-family='"Liberation Sans", sans-serif' textLength="11" lengthAdjust="spacingAndGlyphs">FISH</text>
<text x="823" y="567.8" font-size="6.2" fill="#2a2a2a" text-anchor="start" font-weight="bold" font-family='"Liberation Sans", sans-serif' textLength="27" lengthAdjust="spacingAndGlyphs">CLEANING</text>
<text x="879.3" y="560.6" font-size="6.2" fill="#2a2a2a" text-anchor="start" font-weight="bold" font-family='"Liberation Sans", sans-serif' textLength="40.5" lengthAdjust="spacingAndGlyphs">MAINTENANCE</text>
<text x="879.3" y="566.9" font-size="6.2" fill="#2a2a2a" text-anchor="start" font-weight="bold" font-family='"Liberation Sans", sans-serif' textLength="14" lengthAdjust="spacingAndGlyphs">SHOP</text>
<text x="946.8" y="561.8" font-size="6.2" fill="#2a2a2a" text-anchor="start" font-weight="bold" font-family='"Liberation Sans", sans-serif' textLength="29.5" lengthAdjust="spacingAndGlyphs">RECYCLING</text>
</svg>
</body></html>
